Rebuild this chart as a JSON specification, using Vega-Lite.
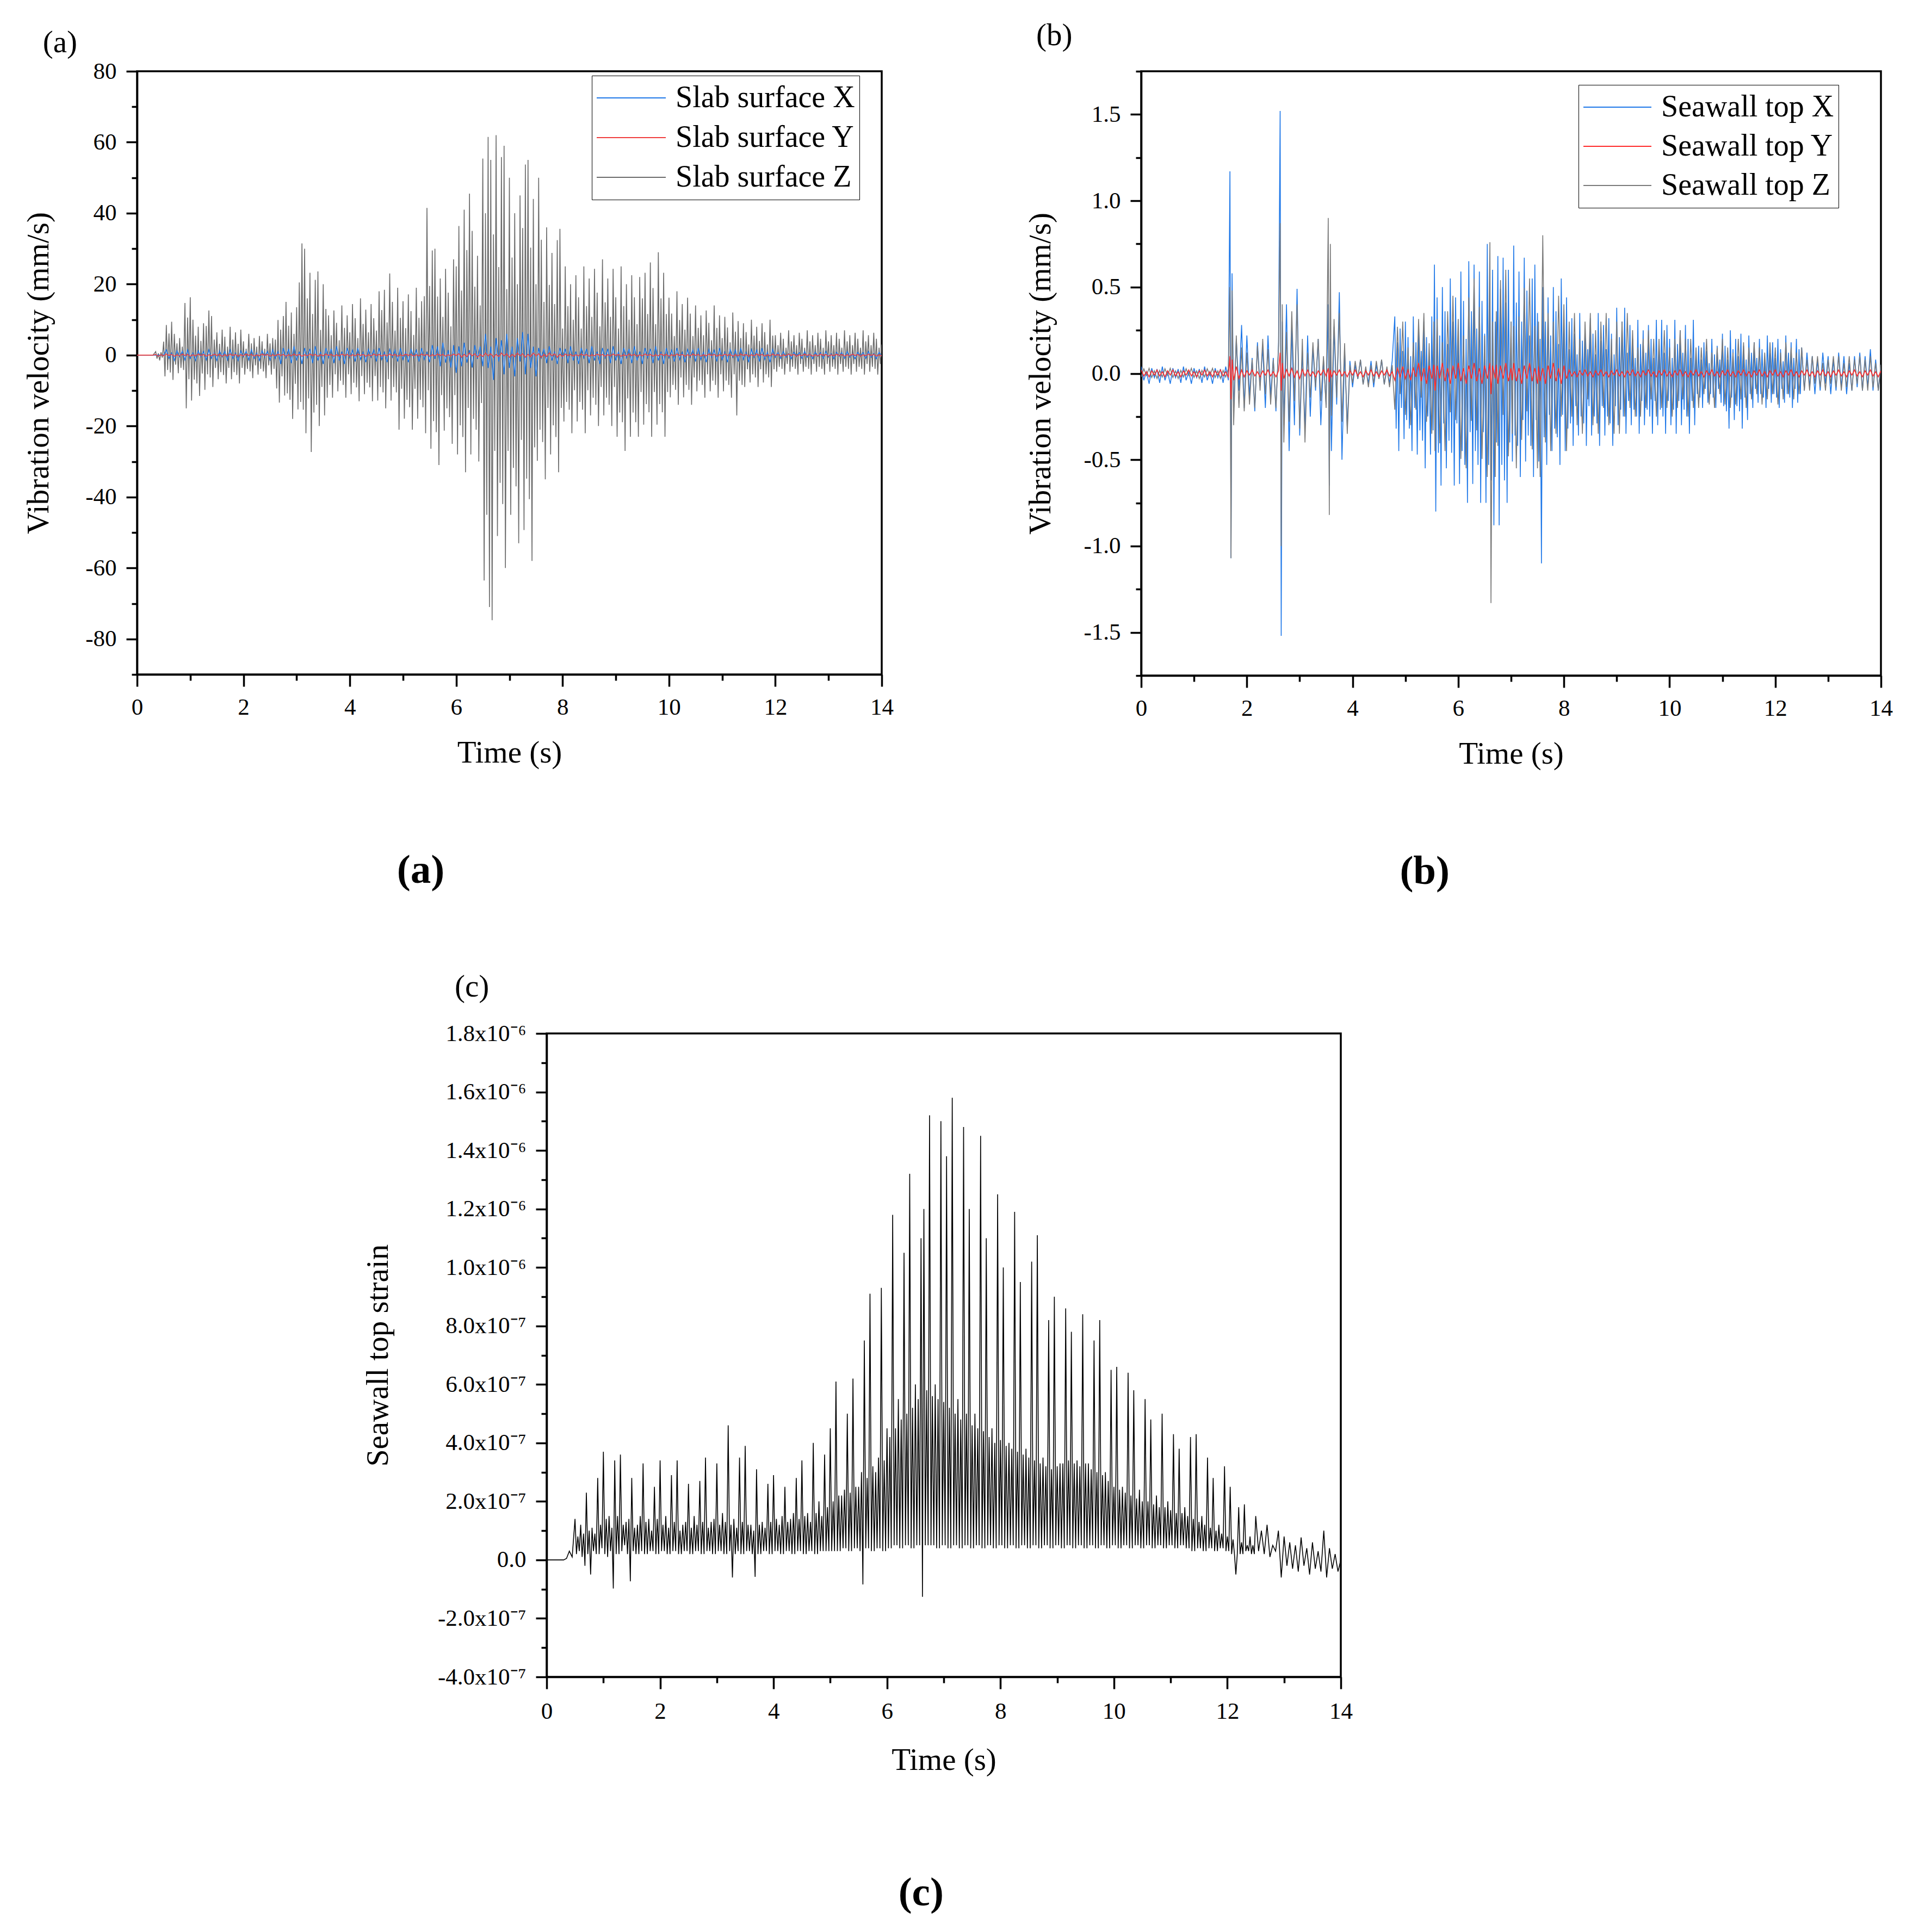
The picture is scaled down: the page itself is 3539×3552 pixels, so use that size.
{
"$schema":"https://vega.github.io/schema/vega-lite/v6.json",
"background":"white",
"padding":{"left":40,"top":35,"right":0,"bottom":0},
"config":{
 "font":"Liberation Serif",
 "view":{"stroke":"black","strokeWidth":3.5},
 "axis":{"domainColor":"black","domainWidth":3.5,"tickColor":"black","tickWidth":3.5,"labelFont":"Liberation Serif","labelFontSize":43,"labelColor":"black","titleFont":"Liberation Serif","titleFontSize":57,"titleFontWeight":"normal","titleColor":"black","grid":false,"labelOverlap":false,"labelFlush":false,"labelBound":false},
 "legend":{"labelFont":"Liberation Serif","labelFontSize":56,"labelColor":"black","labelLimit":800},
 "title":{"font":"Liberation Serif","fontWeight":"normal","color":"black","fontSize":57}
},
"datasets":{
"za":[
{"t":0,"v":0},{"t":0.3,"v":0},
{"t":0.35,"v":1},{"t":0.375,"v":-1},{"t":0.4,"v":0.5},{"t":0.425,"v":-1.5},{"t":0.45,"v":0.8},{"t":0.475,"v":-0.7},
{"t":0.5,"v":3.8},{"t":0.525,"v":-6},{"t":0.55,"v":8.5},{"t":0.575,"v":-4.2},{"t":0.6,"v":6.1},{"t":0.625,"v":-4.9},{"t":0.65,"v":9.4},{"t":0.675,"v":-7},
{"t":0.7,"v":6},{"t":0.725,"v":-2.7},{"t":0.75,"v":3.3},{"t":0.775,"v":-5.1},{"t":0.8,"v":4.8},{"t":0.825,"v":-3.6},{"t":0.85,"v":2.4},{"t":0.875,"v":-4.2},
{"t":0.9,"v":14.7},{"t":0.925,"v":-15},{"t":0.95,"v":10.6},{"t":0.975,"v":-6.8},{"t":1,"v":16.3},{"t":1.025,"v":-12.8},
{"t":1.05,"v":10},{"t":1.075,"v":-6.9},{"t":1.1,"v":5.5},{"t":1.125,"v":-8},{"t":1.15,"v":8},{"t":1.175,"v":-11.5},{"t":1.2,"v":4},{"t":1.225,"v":-5.2},{"t":1.25,"v":9},{"t":1.275,"v":-9.8},
{"t":1.3,"v":8.2},{"t":1.325,"v":-5.4},{"t":1.35,"v":12.6},{"t":1.375,"v":-6.3},{"t":1.4,"v":11},{"t":1.425,"v":-9},
{"t":1.45,"v":4.4},{"t":1.475,"v":-3.6},{"t":1.5,"v":6.4},{"t":1.525,"v":-6.8},{"t":1.55,"v":3.2},{"t":1.575,"v":-4.8},{"t":1.6,"v":7.2},{"t":1.625,"v":-5.6},{"t":1.65,"v":5.2},{"t":1.675,"v":-8},{"t":1.7,"v":2.4},{"t":1.725,"v":-3.6},{"t":1.75,"v":8},{"t":1.775,"v":-6.8},{"t":1.8,"v":4.4},{"t":1.825,"v":-4.8},{"t":1.85,"v":6.4},{"t":1.875,"v":-5.6},{"t":1.9,"v":3.2},{"t":1.925,"v":-8},{"t":1.95,"v":7.2},{"t":1.975,"v":-3.6},
{"t":2,"v":3.9},{"t":2.025,"v":-5.5},{"t":2.05,"v":1.8},{"t":2.075,"v":-3.9},{"t":2.1,"v":6},{"t":2.125,"v":-4.6},{"t":2.15,"v":3.3},{"t":2.175,"v":-6.5},{"t":2.2,"v":4.8},{"t":2.225,"v":-2.9},{"t":2.25,"v":2.4},{"t":2.275,"v":-5.5},{"t":2.3,"v":5.4},{"t":2.325,"v":-3.9},{"t":2.35,"v":3.9},{"t":2.375,"v":-4.6},{"t":2.4,"v":1.8},{"t":2.425,"v":-6.5},{"t":2.45,"v":6},{"t":2.475,"v":-2.9},{"t":2.5,"v":3.3},{"t":2.525,"v":-5.5},{"t":2.55,"v":4.8},{"t":2.575,"v":-3.9},
{"t":2.6,"v":4.4},{"t":2.625,"v":-9.4},{"t":2.65,"v":9.9},{"t":2.675,"v":-13.4},{"t":2.7,"v":7.2},{"t":2.725,"v":-6},{"t":2.75,"v":11},{"t":2.775,"v":-11.4},
{"t":2.8,"v":15},{"t":2.825,"v":-10.8},{"t":2.85,"v":8.3},{"t":2.875,"v":-12.6},{"t":2.9,"v":12},{"t":2.925,"v":-18},{"t":2.95,"v":6},{"t":2.975,"v":-8.1},{"t":3,"v":13.5},{"t":3.025,"v":-15.3},
{"t":3.05,"v":20.5},{"t":3.075,"v":-13.2},{"t":3.1,"v":31.5},{"t":3.125,"v":-15.4},{"t":3.15,"v":30},{"t":3.175,"v":-22},
{"t":3.2,"v":16},{"t":3.225,"v":-12.2},{"t":3.25,"v":23.2},{"t":3.275,"v":-27.3},{"t":3.3,"v":11.6},{"t":3.325,"v":-16.2},
{"t":3.35,"v":21.2},{"t":3.375,"v":-14},{"t":3.4,"v":23.6},{"t":3.425,"v":-20},{"t":3.45,"v":7.1},{"t":3.475,"v":-9},{"t":3.5,"v":20},{"t":3.525,"v":-17},{"t":3.55,"v":13},{"t":3.575,"v":-12},
{"t":3.6,"v":11.2},{"t":3.625,"v":-8.4},{"t":3.65,"v":5.6},{"t":3.675,"v":-12},{"t":3.7,"v":12.6},{"t":3.725,"v":-5.4},{"t":3.75,"v":9.1},{"t":3.775,"v":-10.2},{"t":3.8,"v":4.2},{"t":3.825,"v":-7.2},{"t":3.85,"v":14},{"t":3.875,"v":-8.4},{"t":3.9,"v":7.7},{"t":3.925,"v":-12},{"t":3.95,"v":11.2},{"t":3.975,"v":-5.4},
{"t":4,"v":6.4},{"t":4.025,"v":-11},{"t":4.05,"v":14.4},{"t":4.075,"v":-7.8},{"t":4.1,"v":10.4},{"t":4.125,"v":-9.1},{"t":4.15,"v":4.8},{"t":4.175,"v":-13},{"t":4.2,"v":16},{"t":4.225,"v":-5.9},{"t":4.25,"v":8.8},{"t":4.275,"v":-11},{"t":4.3,"v":12.8},{"t":4.325,"v":-7.8},{"t":4.35,"v":6.4},{"t":4.375,"v":-9.1},{"t":4.4,"v":14.4},{"t":4.425,"v":-13},{"t":4.45,"v":10.4},{"t":4.475,"v":-5.9},
{"t":4.5,"v":6.9},{"t":4.525,"v":-12.8},{"t":4.55,"v":18},{"t":4.575,"v":-9},{"t":4.6,"v":12.7},{"t":4.625,"v":-10.5},{"t":4.65,"v":18.4},{"t":4.675,"v":-15},{"t":4.7,"v":9.2},{"t":4.725,"v":-6.8},{"t":4.75,"v":23},{"t":4.775,"v":-12.8},{"t":4.8,"v":15},{"t":4.825,"v":-9},{"t":4.85,"v":6.9},{"t":4.875,"v":-10.5},
{"t":4.9,"v":19},{"t":4.925,"v":-21},{"t":4.95,"v":10.5},{"t":4.975,"v":-9.5},{"t":5,"v":15.2},{"t":5.025,"v":-17.9},{"t":5.05,"v":7.6},{"t":5.075,"v":-12.6},{"t":5.1,"v":17.1},{"t":5.125,"v":-14.7},{"t":5.15,"v":12.4},{"t":5.175,"v":-21},{"t":5.2,"v":5.7},{"t":5.225,"v":-9.5},{"t":5.25,"v":19},{"t":5.275,"v":-17.9},{"t":5.3,"v":10.5},{"t":5.325,"v":-12.6},{"t":5.35,"v":15.2},{"t":5.375,"v":-14.7},
{"t":5.4,"v":16.6},{"t":5.425,"v":-22},{"t":5.45,"v":41.5},{"t":5.475,"v":-9.9},
{"t":5.5,"v":19.5},{"t":5.525,"v":-26.4},{"t":5.55,"v":29.5},{"t":5.575,"v":-18.6},{"t":5.6,"v":30},{"t":5.625,"v":-21.7},{"t":5.65,"v":16.5},{"t":5.675,"v":-31},
{"t":5.7,"v":21.6},{"t":5.725,"v":-11.3},{"t":5.75,"v":10.8},{"t":5.775,"v":-21.3},{"t":5.8,"v":24.3},{"t":5.825,"v":-15},{"t":5.85,"v":17.6},{"t":5.875,"v":-17.5},{"t":5.9,"v":8.1},{"t":5.925,"v":-25},{"t":5.95,"v":27},{"t":5.975,"v":-11.3},
{"t":6,"v":25},{"t":6.025,"v":-28},{"t":6.05,"v":36.4},{"t":6.075,"v":-19.8},{"t":6.1,"v":18.2},{"t":6.125,"v":-23.1},{"t":6.15,"v":41},{"t":6.175,"v":-33},{"t":6.2,"v":29.6},{"t":6.225,"v":-14.9},{"t":6.25,"v":45.5},{"t":6.275,"v":-28},
{"t":6.3,"v":35},{"t":6.325,"v":-18},{"t":6.35,"v":19.3},{"t":6.375,"v":-21},{"t":6.4,"v":28},{"t":6.425,"v":-30},{"t":6.45,"v":14},{"t":6.475,"v":-13.5},
{"t":6.5,"v":55.4},{"t":6.525,"v":-63.5},{"t":6.55,"v":40},{"t":6.575,"v":-45},{"t":6.6,"v":61.5},{"t":6.625,"v":-71},{"t":6.65,"v":55},{"t":6.675,"v":-74.7},
{"t":6.7,"v":34},{"t":6.725,"v":-27},{"t":6.75,"v":62},{"t":6.775,"v":-51},{"t":6.8,"v":24.8},{"t":6.825,"v":-36},{"t":6.85,"v":55.8},{"t":6.875,"v":-42},{"t":6.9,"v":59},{"t":6.925,"v":-60},{"t":6.95,"v":18.6},{"t":6.975,"v":-27},
{"t":7,"v":50},{"t":7.025,"v":-45},{"t":7.05,"v":27.5},{"t":7.075,"v":-31.8},{"t":7.1,"v":40},{"t":7.125,"v":-37},{"t":7.15,"v":20},{"t":7.175,"v":-53},{"t":7.2,"v":45},{"t":7.225,"v":-23.9},
{"t":7.25,"v":35.8},{"t":7.275,"v":-49.3},{"t":7.3,"v":53.7},{"t":7.325,"v":-34.8},{"t":7.35,"v":55},{"t":7.375,"v":-40.6},{"t":7.4,"v":30.3},{"t":7.425,"v":-58},{"t":7.45,"v":44},{"t":7.475,"v":-26},
{"t":7.5,"v":20},{"t":7.525,"v":-29.8},{"t":7.55,"v":50},{"t":7.575,"v":-21},{"t":7.6,"v":32.5},{"t":7.625,"v":-24.5},{"t":7.65,"v":15},{"t":7.675,"v":-35},
{"t":7.7,"v":36},{"t":7.725,"v":-14.9},{"t":7.75,"v":19.8},{"t":7.775,"v":-28},{"t":7.8,"v":28.8},{"t":7.825,"v":-19.8},{"t":7.85,"v":14.4},{"t":7.875,"v":-23.1},{"t":7.9,"v":32.4},{"t":7.925,"v":-33},{"t":7.95,"v":35.6},{"t":7.975,"v":-14.9},
{"t":8,"v":7.5},{"t":8.025,"v":-18.7},{"t":8.05,"v":25},{"t":8.075,"v":-13.2},{"t":8.1,"v":13.8},{"t":8.125,"v":-15.4},{"t":8.15,"v":20},{"t":8.175,"v":-22},{"t":8.2,"v":10},{"t":8.225,"v":-9.9},{"t":8.25,"v":22.5},{"t":8.275,"v":-18.7},{"t":8.3,"v":16.3},{"t":8.325,"v":-13.2},{"t":8.35,"v":7.5},{"t":8.375,"v":-15.4},{"t":8.4,"v":25},{"t":8.425,"v":-22},{"t":8.45,"v":13.8},{"t":8.475,"v":-9.9},
{"t":8.5,"v":21.6},{"t":8.525,"v":-17},{"t":8.55,"v":10.8},{"t":8.575,"v":-12},{"t":8.6,"v":24.3},{"t":8.625,"v":-14},{"t":8.65,"v":17.6},{"t":8.675,"v":-20},{"t":8.7,"v":8.1},{"t":8.725,"v":-9},{"t":8.75,"v":27},{"t":8.775,"v":-17},{"t":8.8,"v":14.9},{"t":8.825,"v":-12},{"t":8.85,"v":21.6},{"t":8.875,"v":-14},{"t":8.9,"v":10.8},{"t":8.925,"v":-20},{"t":8.95,"v":24.3},{"t":8.975,"v":-9},
{"t":9,"v":16.3},{"t":9.025,"v":-23},{"t":9.05,"v":7.5},{"t":9.075,"v":-16.2},{"t":9.1,"v":25},{"t":9.125,"v":-18.9},{"t":9.15,"v":13.8},{"t":9.175,"v":-27},{"t":9.2,"v":20},{"t":9.225,"v":-12.2},{"t":9.25,"v":10},{"t":9.275,"v":-23},{"t":9.3,"v":22.5},{"t":9.325,"v":-16.2},{"t":9.35,"v":16.3},{"t":9.375,"v":-18.9},
{"t":9.4,"v":8.7},{"t":9.425,"v":-23},{"t":9.45,"v":22},{"t":9.475,"v":-10.4},{"t":9.5,"v":16},{"t":9.525,"v":-19.6},{"t":9.55,"v":23.2},{"t":9.575,"v":-13.8},{"t":9.6,"v":11.6},{"t":9.625,"v":-16.1},{"t":9.65,"v":26.1},{"t":9.675,"v":-23},{"t":9.7,"v":18.9},{"t":9.725,"v":-10.4},{"t":9.75,"v":8.7},{"t":9.775,"v":-19.6},{"t":9.8,"v":29},{"t":9.825,"v":-13.8},{"t":9.85,"v":16},{"t":9.875,"v":-16.1},{"t":9.9,"v":23.2},{"t":9.925,"v":-23},{"t":9.95,"v":11.6},{"t":9.975,"v":-10.4},
{"t":10,"v":16.2},{"t":10.025,"v":-11.9},{"t":10.05,"v":11.7},{"t":10.075,"v":-8.4},{"t":10.1,"v":5.4},{"t":10.125,"v":-9.8},{"t":10.15,"v":18},{"t":10.175,"v":-14},{"t":10.2,"v":9.9},{"t":10.225,"v":-6.3},{"t":10.25,"v":14.4},{"t":10.275,"v":-11.9},{"t":10.3,"v":7.2},{"t":10.325,"v":-8.4},{"t":10.35,"v":16.2},{"t":10.375,"v":-9.8},{"t":10.4,"v":11.7},{"t":10.425,"v":-14},{"t":10.45,"v":5.4},{"t":10.475,"v":-6.3},
{"t":10.5,"v":14},{"t":10.525,"v":-10.2},{"t":10.55,"v":7.7},{"t":10.575,"v":-7.2},{"t":10.6,"v":11.2},{"t":10.625,"v":-8.4},{"t":10.65,"v":5.6},{"t":10.675,"v":-12},{"t":10.7,"v":12.6},{"t":10.725,"v":-5.4},{"t":10.75,"v":9.1},{"t":10.775,"v":-10.2},{"t":10.8,"v":4.2},{"t":10.825,"v":-7.2},{"t":10.85,"v":14},{"t":10.875,"v":-8.4},{"t":10.9,"v":7.7},{"t":10.925,"v":-12},{"t":10.95,"v":11.2},{"t":10.975,"v":-5.4},
{"t":11,"v":4.8},{"t":11.025,"v":-10.2},{"t":11.05,"v":10.8},{"t":11.075,"v":-7.2},{"t":11.1,"v":7.8},{"t":11.125,"v":-8.4},{"t":11.15,"v":3.6},{"t":11.175,"v":-12},{"t":11.2,"v":12},{"t":11.225,"v":-5.4},{"t":11.25,"v":6.6},{"t":11.275,"v":-17},{"t":11.3,"v":9.6},{"t":11.325,"v":-7.2},{"t":11.35,"v":4.8},{"t":11.375,"v":-8.4},
{"t":11.4,"v":9},{"t":11.425,"v":-9},{"t":11.45,"v":6.5},{"t":11.475,"v":-4},{"t":11.5,"v":3},{"t":11.525,"v":-7.7},{"t":11.55,"v":10},{"t":11.575,"v":-5.4},{"t":11.6,"v":5.5},{"t":11.625,"v":-6.3},{"t":11.65,"v":8},{"t":11.675,"v":-9},{"t":11.7,"v":4},{"t":11.725,"v":-4},{"t":11.75,"v":9},{"t":11.775,"v":-7.7},{"t":11.8,"v":6.5},{"t":11.825,"v":-5.4},{"t":11.85,"v":3},{"t":11.875,"v":-6.3},{"t":11.9,"v":10},{"t":11.925,"v":-9},{"t":11.95,"v":5.5},{"t":11.975,"v":-4},
{"t":12,"v":5.6},{"t":12.025,"v":-4.7},{"t":12.05,"v":2.8},{"t":12.075,"v":-3.3},{"t":12.1,"v":6.3},{"t":12.125,"v":-3.9},{"t":12.15,"v":4.6},{"t":12.175,"v":-5.5},{"t":12.2,"v":2.1},{"t":12.225,"v":-2.5},{"t":12.25,"v":7},{"t":12.275,"v":-4.7},{"t":12.3,"v":3.9},{"t":12.325,"v":-3.3},{"t":12.35,"v":5.6},{"t":12.375,"v":-3.9},{"t":12.4,"v":2.8},{"t":12.425,"v":-5.5},{"t":12.45,"v":6.3},{"t":12.475,"v":-2.5},{"t":12.5,"v":4.6},{"t":12.525,"v":-4.7},{"t":12.55,"v":2.1},{"t":12.575,"v":-3.3},{"t":12.6,"v":7},{"t":12.625,"v":-3.9},{"t":12.65,"v":3.9},{"t":12.675,"v":-5.5},{"t":12.7,"v":5.6},{"t":12.725,"v":-2.5},{"t":12.75,"v":2.8},{"t":12.775,"v":-4.7},{"t":12.8,"v":6.3},{"t":12.825,"v":-3.3},{"t":12.85,"v":4.6},{"t":12.875,"v":-3.9},{"t":12.9,"v":2.1},{"t":12.925,"v":-5.5},{"t":12.95,"v":7},{"t":12.975,"v":-2.5},
{"t":13,"v":3.9},{"t":13.025,"v":-4.7},{"t":13.05,"v":5.6},{"t":13.075,"v":-3.3},{"t":13.1,"v":2.8},{"t":13.125,"v":-3.9},{"t":13.15,"v":6.3},{"t":13.175,"v":-5.5},{"t":13.2,"v":4.6},{"t":13.225,"v":-2.5},{"t":13.25,"v":2.1},{"t":13.275,"v":-4.7},{"t":13.3,"v":7},{"t":13.325,"v":-3.3},{"t":13.35,"v":3.9},{"t":13.375,"v":-3.9},{"t":13.4,"v":5.6},{"t":13.425,"v":-5.5},{"t":13.45,"v":2.8},{"t":13.475,"v":-2.5},{"t":13.5,"v":6.3},{"t":13.525,"v":-4.7},{"t":13.55,"v":4.6},{"t":13.575,"v":-3.3},{"t":13.6,"v":2.1},{"t":13.625,"v":-3.9},{"t":13.65,"v":7},{"t":13.675,"v":-5.5},{"t":13.7,"v":3.9},{"t":13.725,"v":-2.5},{"t":13.75,"v":5.6},{"t":13.775,"v":-4.7},{"t":13.8,"v":2.8},{"t":13.825,"v":-3.3},{"t":13.85,"v":6.3},{"t":13.875,"v":-3.9},{"t":13.9,"v":4.6},{"t":13.925,"v":-5.5},{"t":13.95,"v":2.1},{"t":13.975,"v":-2.5},{"t":14,"v":3}
],
"a":[
{"t":0,"x":0,"y":0},{"t":0.3,"x":0,"y":0},{"t":0.35,"x":0,"y":0.2},{"t":0.4,"x":0,"y":-0.3},{"t":0.45,"x":0,"y":0.1},{"t":0.5,"x":0,"y":-0.2},{"t":0.55,"x":1.5,"y":0.3},{"t":0.6,"x":-0.9,"y":-0.1},{"t":0.65,"x":0.6,"y":0.2},{"t":0.7,"x":-1.5,"y":-0.3},{"t":0.75,"x":1.2,"y":0.1},{"t":0.8,"x":-0.45,"y":-0.2},{"t":0.85,"x":1.05,"y":0.3},{"t":0.9,"x":-1.35,"y":-0.1},{"t":0.95,"x":1.5,"y":0.2},{"t":1,"x":-0.9,"y":-0.3},{"t":1.05,"x":0.6,"y":0.1},{"t":1.1,"x":-1.5,"y":-0.2},{"t":1.15,"x":1.2,"y":0.3},{"t":1.2,"x":-0.45,"y":-0.1},{"t":1.25,"x":1.05,"y":0.2},{"t":1.3,"x":-1.35,"y":-0.3},{"t":1.35,"x":1.5,"y":0.1},{"t":1.4,"x":-0.9,"y":-0.2},{"t":1.45,"x":0.6,"y":0.3},{"t":1.5,"x":-1.5,"y":-0.1},{"t":1.55,"x":1.2,"y":0.2},{"t":1.6,"x":-0.45,"y":-0.3},{"t":1.65,"x":1.05,"y":0.1},{"t":1.7,"x":-1.35,"y":-0.2},{"t":1.75,"x":1.5,"y":0.3},{"t":1.8,"x":-0.9,"y":-0.1},{"t":1.85,"x":0.6,"y":0.2},{"t":1.9,"x":-1.5,"y":-0.3},{"t":1.95,"x":1.2,"y":0.1},{"t":2,"x":-0.45,"y":-0.2},{"t":2.05,"x":1.05,"y":0.3},{"t":2.1,"x":-1.35,"y":-0.1},{"t":2.15,"x":1.5,"y":0.2},{"t":2.2,"x":-0.9,"y":-0.3},{"t":2.25,"x":0.6,"y":0.1},{"t":2.3,"x":-1.5,"y":-0.2},{"t":2.35,"x":1.2,"y":0.3},{"t":2.4,"x":-0.45,"y":-0.1},{"t":2.45,"x":1.05,"y":0.2},{"t":2.5,"x":-1.35,"y":-0.3},{"t":2.55,"x":1.5,"y":0.1},{"t":2.6,"x":-0.9,"y":-0.2},{"t":2.65,"x":1,"y":0.3},{"t":2.7,"x":-2.5,"y":-0.1},{"t":2.75,"x":2,"y":0.2},{"t":2.8,"x":-0.75,"y":-0.3},{"t":2.85,"x":1.75,"y":0.1},{"t":2.9,"x":-2.25,"y":-0.2},{"t":2.95,"x":2.5,"y":0.3},{"t":3,"x":-1.5,"y":-0.1},{"t":3.05,"x":1,"y":0.2},{"t":3.1,"x":-2.5,"y":-0.3},{"t":3.15,"x":2,"y":0.1},{"t":3.2,"x":-0.75,"y":-0.2},{"t":3.25,"x":1.75,"y":0.3},{"t":3.3,"x":-2.25,"y":-0.1},{"t":3.35,"x":2.5,"y":0.2},{"t":3.4,"x":-1.5,"y":-0.3},{"t":3.45,"x":1,"y":0.1},{"t":3.5,"x":-2.5,"y":-0.2},{"t":3.55,"x":2,"y":0.3},{"t":3.6,"x":-0.75,"y":-0.1},{"t":3.65,"x":1.75,"y":0.2},{"t":3.7,"x":-2.25,"y":-0.3},{"t":3.75,"x":2.5,"y":0.1},{"t":3.8,"x":-1.5,"y":-0.2},{"t":3.85,"x":1,"y":0.3},{"t":3.9,"x":-2.5,"y":-0.1},{"t":3.95,"x":2,"y":0.2},{"t":4,"x":-0.75,"y":-0.3},{"t":4.05,"x":1.4,"y":0.1},{"t":4.1,"x":-1.8,"y":-0.2},{"t":4.15,"x":2,"y":0.3},{"t":4.2,"x":-1.2,"y":-0.1},{"t":4.25,"x":0.8,"y":0.2},{"t":4.3,"x":-2,"y":-0.3},{"t":4.35,"x":1.6,"y":0.1},{"t":4.4,"x":-0.6,"y":-0.2},{"t":4.45,"x":1.4,"y":0.3},{"t":4.5,"x":-1.8,"y":-0.1},{"t":4.55,"x":2,"y":0.2},{"t":4.6,"x":-1.2,"y":-0.3},{"t":4.65,"x":0.8,"y":0.1},{"t":4.7,"x":-2,"y":-0.2},{"t":4.75,"x":1.6,"y":0.3},{"t":4.8,"x":-0.6,"y":-0.1},{"t":4.85,"x":1.4,"y":0.2},{"t":4.9,"x":-1.8,"y":-0.3},{"t":4.95,"x":2,"y":0.1},{"t":5,"x":-1.2,"y":-0.2},{"t":5.05,"x":0.8,"y":0.3},{"t":5.1,"x":-2,"y":-0.1},{"t":5.15,"x":1.6,"y":0.2},{"t":5.2,"x":-0.6,"y":-0.3},{"t":5.25,"x":1.4,"y":0.1},{"t":5.3,"x":-1.8,"y":-0.2},{"t":5.35,"x":2,"y":0.3},{"t":5.4,"x":-1.2,"y":-0.1},{"t":5.45,"x":0.8,"y":0.2},{"t":5.5,"x":-2,"y":-0.3},{"t":5.55,"x":2.8,"y":0.1},{"t":5.6,"x":-1.05,"y":-0.2},{"t":5.65,"x":2.45,"y":0.3},{"t":5.7,"x":-3.15,"y":-0.1},{"t":5.75,"x":3.5,"y":0.2},{"t":5.8,"x":-2.1,"y":-0.3},{"t":5.85,"x":1.4,"y":0.1},{"t":5.9,"x":-3.5,"y":-0.2},{"t":5.95,"x":2.8,"y":0.3},{"t":6,"x":-5,"y":-0.1},{"t":6.05,"x":2.45,"y":0.4},{"t":6.1,"x":-3.15,"y":-0.6},{"t":6.15,"x":3.5,"y":0.2},{"t":6.2,"x":-2.1,"y":-0.4},{"t":6.25,"x":1.4,"y":0.6},{"t":6.3,"x":-3.5,"y":-0.2},{"t":6.35,"x":2.8,"y":0.4},{"t":6.4,"x":-1.05,"y":-0.6},{"t":6.45,"x":2.45,"y":0.2},{"t":6.5,"x":-3.15,"y":-0.4},{"t":6.55,"x":6,"y":0.6},{"t":6.6,"x":-3.6,"y":-0.2},{"t":6.65,"x":2.4,"y":0.4},{"t":6.7,"x":-7,"y":-0.6},{"t":6.75,"x":4.8,"y":0.2},{"t":6.8,"x":-1.8,"y":-0.4},{"t":6.85,"x":4.2,"y":0.6},{"t":6.9,"x":-5.4,"y":-0.2},{"t":6.95,"x":6,"y":0.4},{"t":7,"x":-3.6,"y":-0.6},{"t":7.05,"x":2.4,"y":0.2},{"t":7.1,"x":-6,"y":-0.4},{"t":7.15,"x":4.8,"y":0.6},{"t":7.2,"x":-1.8,"y":-0.2},{"t":7.25,"x":6.5,"y":0.4},{"t":7.3,"x":-5.4,"y":-0.6},{"t":7.35,"x":6,"y":0.2},{"t":7.4,"x":-3.6,"y":-0.4},{"t":7.45,"x":2.4,"y":0.6},{"t":7.5,"x":-6,"y":-0.2},{"t":7.55,"x":2,"y":0.4},{"t":7.6,"x":-0.75,"y":-0.6},{"t":7.65,"x":1.75,"y":0.2},{"t":7.7,"x":-2.25,"y":-0.4},{"t":7.75,"x":2.5,"y":0.6},{"t":7.8,"x":-1.5,"y":-0.2},{"t":7.85,"x":1,"y":0.4},{"t":7.9,"x":-2.5,"y":-0.6},{"t":7.95,"x":2,"y":0.2},{"t":8,"x":-0.75,"y":-0.4},{"t":8.05,"x":1.75,"y":0.3},{"t":8.1,"x":-2.25,"y":-0.1},{"t":8.15,"x":2.5,"y":0.2},{"t":8.2,"x":-1.5,"y":-0.3},{"t":8.25,"x":1,"y":0.1},{"t":8.3,"x":-2.5,"y":-0.2},{"t":8.35,"x":2,"y":0.3},{"t":8.4,"x":-0.75,"y":-0.1},{"t":8.45,"x":1.75,"y":0.2},{"t":8.5,"x":-2.25,"y":-0.3},{"t":8.55,"x":2.5,"y":0.1},{"t":8.6,"x":-1.5,"y":-0.2},{"t":8.65,"x":1,"y":0.3},{"t":8.7,"x":-2.5,"y":-0.1},{"t":8.75,"x":2,"y":0.2},{"t":8.8,"x":-0.75,"y":-0.3},{"t":8.85,"x":1.75,"y":0.1},{"t":8.9,"x":-2.25,"y":-0.2},{"t":8.95,"x":2.5,"y":0.3},{"t":9,"x":-1.5,"y":-0.1},{"t":9.05,"x":1,"y":0.2},{"t":9.1,"x":-2.5,"y":-0.3},{"t":9.15,"x":2,"y":0.1},{"t":9.2,"x":-0.75,"y":-0.2},{"t":9.25,"x":1.75,"y":0.3},{"t":9.3,"x":-2.25,"y":-0.1},{"t":9.35,"x":2.5,"y":0.2},{"t":9.4,"x":-1.5,"y":-0.3},{"t":9.45,"x":1,"y":0.1},{"t":9.5,"x":-2.5,"y":-0.2},{"t":9.55,"x":2,"y":0.3},{"t":9.6,"x":-0.75,"y":-0.1},{"t":9.65,"x":1.75,"y":0.2},{"t":9.7,"x":-2.25,"y":-0.3},{"t":9.75,"x":2.5,"y":0.1},{"t":9.8,"x":-1.5,"y":-0.2},{"t":9.85,"x":1,"y":0.3},{"t":9.9,"x":-2.5,"y":-0.1},{"t":9.95,"x":2,"y":0.2},{"t":10,"x":-0.75,"y":-0.3},{"t":10.05,"x":1.4,"y":0.1},{"t":10.1,"x":-1.8,"y":-0.2},{"t":10.15,"x":2,"y":0.3},{"t":10.2,"x":-1.2,"y":-0.1},{"t":10.25,"x":0.8,"y":0.2},{"t":10.3,"x":-2,"y":-0.3},{"t":10.35,"x":1.6,"y":0.1},{"t":10.4,"x":-0.6,"y":-0.2},{"t":10.45,"x":1.4,"y":0.3},{"t":10.5,"x":-1.8,"y":-0.1},{"t":10.55,"x":2,"y":0.2},{"t":10.6,"x":-1.2,"y":-0.3},{"t":10.65,"x":0.8,"y":0.1},{"t":10.7,"x":-2,"y":-0.2},{"t":10.75,"x":1.6,"y":0.3},{"t":10.8,"x":-0.6,"y":-0.1},{"t":10.85,"x":1.4,"y":0.2},{"t":10.9,"x":-1.8,"y":-0.3},{"t":10.95,"x":2,"y":0.1},{"t":11,"x":-1.2,"y":-0.2},{"t":11.05,"x":0.8,"y":0.3},{"t":11.1,"x":-2,"y":-0.1},{"t":11.15,"x":1.6,"y":0.2},{"t":11.2,"x":-0.6,"y":-0.3},{"t":11.25,"x":1.4,"y":0.1},{"t":11.3,"x":-1.8,"y":-0.2},{"t":11.35,"x":2,"y":0.3},{"t":11.4,"x":-1.2,"y":-0.1},{"t":11.45,"x":0.8,"y":0.2},{"t":11.5,"x":-2,"y":-0.3},{"t":11.55,"x":1.6,"y":0.1},{"t":11.6,"x":-0.6,"y":-0.2},{"t":11.65,"x":1.4,"y":0.3},{"t":11.7,"x":-1.8,"y":-0.1},{"t":11.75,"x":2,"y":0.2},{"t":11.8,"x":-1.2,"y":-0.3},{"t":11.85,"x":0.8,"y":0.1},{"t":11.9,"x":-2,"y":-0.2},{"t":11.95,"x":1.6,"y":0.3},{"t":12,"x":-0.6,"y":-0.1},{"t":12.05,"x":0.7,"y":0.2},{"t":12.1,"x":-0.9,"y":-0.3},{"t":12.15,"x":1,"y":0.1},{"t":12.2,"x":-0.6,"y":-0.2},{"t":12.25,"x":0.4,"y":0.3},{"t":12.3,"x":-1,"y":-0.1},{"t":12.35,"x":0.8,"y":0.2},{"t":12.4,"x":-0.3,"y":-0.3},{"t":12.45,"x":0.7,"y":0.1},{"t":12.5,"x":-0.9,"y":-0.2},{"t":12.55,"x":1,"y":0.3},{"t":12.6,"x":-0.6,"y":-0.1},{"t":12.65,"x":0.4,"y":0.2},{"t":12.7,"x":-1,"y":-0.3},{"t":12.75,"x":0.8,"y":0.1},{"t":12.8,"x":-0.3,"y":-0.2},{"t":12.85,"x":0.7,"y":0.3},{"t":12.9,"x":-0.9,"y":-0.1},{"t":12.95,"x":1,"y":0.2},{"t":13,"x":-0.6,"y":-0.3},{"t":13.05,"x":0.4,"y":0.1},{"t":13.1,"x":-1,"y":-0.2},{"t":13.15,"x":0.8,"y":0.3},{"t":13.2,"x":-0.3,"y":-0.1},{"t":13.25,"x":0.7,"y":0.2},{"t":13.3,"x":-0.9,"y":-0.3},{"t":13.35,"x":1,"y":0.1},{"t":13.4,"x":-0.6,"y":-0.2},{"t":13.45,"x":0.4,"y":0.3},{"t":13.5,"x":-1,"y":-0.1},{"t":13.55,"x":0.8,"y":0.2},{"t":13.6,"x":-0.3,"y":-0.3},{"t":13.65,"x":0.7,"y":0.1},{"t":13.7,"x":-0.9,"y":-0.2},{"t":13.75,"x":1,"y":0.3},{"t":13.8,"x":-0.6,"y":-0.1},{"t":13.85,"x":0.4,"y":0.2},{"t":13.9,"x":-1,"y":-0.3},{"t":13.95,"x":0.8,"y":0.1},{"t":14,"x":-0.3,"y":-0.2}
],
"xb":[
{"t":0,"v":0.04},{"t":0.05,"v":-0.04},{"t":0.1,"v":0.01},{"t":0.15,"v":-0.06},{"t":0.2,"v":0.03},{"t":0.25,"v":-0.025},{"t":0.3,"v":0.025},{"t":0.35,"v":-0.055},{"t":0.4,"v":0.04},{"t":0.45,"v":-0.04},{"t":0.5,"v":0.01},{"t":0.55,"v":-0.06},{"t":0.6,"v":0.03},{"t":0.65,"v":-0.025},{"t":0.7,"v":0.025},{"t":0.75,"v":-0.055},{"t":0.8,"v":0.04},{"t":0.85,"v":-0.04},{"t":0.9,"v":0.01},{"t":0.95,"v":-0.06},{"t":1,"v":0.03},{"t":1.05,"v":-0.025},{"t":1.1,"v":0.025},{"t":1.15,"v":-0.055},{"t":1.2,"v":0.04},{"t":1.25,"v":-0.04},{"t":1.3,"v":0.01},{"t":1.35,"v":-0.06},{"t":1.4,"v":0.03},{"t":1.45,"v":-0.025},{"t":1.5,"v":0.025},{"t":1.55,"v":-0.055},{"t":1.6,"v":0.04},{"t":1.65,"v":-0.04},
{"t":1.68,"v":1.17},{"t":1.7,"v":-1.07},{"t":1.72,"v":0.58},{"t":1.75,"v":-0.22},{"t":1.8,"v":0.2},{"t":1.85,"v":-0.1},{"t":1.9,"v":0.28},{"t":1.95,"v":-0.2},{"t":2,"v":0.22},{"t":2.05,"v":-0.13},{"t":2.1,"v":0.09},{"t":2.15,"v":-0.22},{"t":2.2,"v":0.18},{"t":2.25,"v":-0.07},{"t":2.3,"v":0.15},{"t":2.35,"v":-0.2},{"t":2.4,"v":0.22},{"t":2.45,"v":-0.13},{"t":2.5,"v":0.09},{"t":2.55,"v":-0.22},{"t":2.6,"v":0.18},
{"t":2.63,"v":1.52},{"t":2.65,"v":-1.52},{"t":2.67,"v":0.3},{"t":2.7,"v":-0.3},{"t":2.75,"v":0.4},{"t":2.8,"v":-0.45},{"t":2.85,"v":0.27},{"t":2.9,"v":-0.3},{"t":2.95,"v":0.49},{"t":3,"v":-0.36},{"t":3.05,"v":0.13},{"t":3.1,"v":-0.32},{"t":3.15,"v":0.22},{"t":3.2,"v":-0.25},{"t":3.25,"v":0.15},{"t":3.3,"v":-0.1},{"t":3.35,"v":0.2},{"t":3.4,"v":-0.3},{"t":3.45,"v":0.08},{"t":3.5,"v":-0.18},
{"t":3.54,"v":0.4},{"t":3.56,"v":-0.65},{"t":3.58,"v":0.2},{"t":3.6,"v":-0.45},{"t":3.65,"v":0.27},{"t":3.7,"v":-0.18},{"t":3.75,"v":0.47},{"t":3.8,"v":-0.5},{"t":3.85,"v":0.135},{"t":3.9,"v":-0.315},{"t":3.95,"v":0.072},{"t":4,"v":-0.08},{"t":4.05,"v":0.048},{"t":4.1,"v":-0.032},{"t":4.15,"v":0.08},{"t":4.2,"v":-0.064},{"t":4.25,"v":0.024},{"t":4.3,"v":-0.056},{"t":4.35,"v":0.072},{"t":4.4,"v":-0.08},{"t":4.45,"v":0.048},{"t":4.5,"v":-0.032},{"t":4.55,"v":0.08},{"t":4.6,"v":-0.064},{"t":4.65,"v":0.024},{"t":4.7,"v":-0.056},{"t":4.75,"v":0.072},
{"t":4.8,"v":0.33},{"t":4.825,"v":-0.32},{"t":4.85,"v":0.18},{"t":4.875,"v":-0.45},{"t":4.9,"v":0.26},{"t":4.925,"v":-0.2},{"t":4.95,"v":0.13},{"t":4.975,"v":-0.38},{"t":5,"v":0.3},{"t":5.025,"v":-0.27},{"t":5.05,"v":0.21},{"t":5.075,"v":-0.32},{"t":5.1,"v":0.1},{"t":5.125,"v":-0.45},{"t":5.15,"v":0.33},{"t":5.175,"v":-0.2},
{"t":5.2,"v":0.18},{"t":5.225,"v":-0.47},{"t":5.25,"v":0.26},{"t":5.275,"v":-0.33},{"t":5.3,"v":0.13},{"t":5.325,"v":-0.39},{"t":5.35,"v":0.3},{"t":5.375,"v":-0.55},{"t":5.4,"v":0.21},{"t":5.425,"v":-0.25},{"t":5.45,"v":0.1},{"t":5.475,"v":-0.47},{"t":5.5,"v":0.33},{"t":5.525,"v":-0.33},{"t":5.55,"v":0.63},{"t":5.575,"v":-0.8},
{"t":5.6,"v":0.44},{"t":5.625,"v":-0.46},{"t":5.65,"v":0.22},{"t":5.675,"v":-0.65},{"t":5.7,"v":0.5},{"t":5.725,"v":-0.29},{"t":5.75,"v":0.36},{"t":5.775,"v":-0.55},{"t":5.8,"v":0.17},{"t":5.825,"v":-0.39},{"t":5.85,"v":0.55},{"t":5.875,"v":-0.46},{"t":5.9,"v":0.3},{"t":5.925,"v":-0.65},{"t":5.95,"v":0.44},{"t":5.975,"v":-0.29},
{"t":6,"v":0.22},{"t":6.025,"v":-0.64},{"t":6.05,"v":0.59},{"t":6.075,"v":-0.45},{"t":6.1,"v":0.42},{"t":6.125,"v":-0.53},{"t":6.15,"v":0.2},{"t":6.175,"v":-0.75},{"t":6.2,"v":0.65},{"t":6.225,"v":-0.34},{"t":6.25,"v":0.36},{"t":6.275,"v":-0.64},{"t":6.3,"v":0.63},{"t":6.325,"v":-0.45},{"t":6.35,"v":0.26},{"t":6.375,"v":-0.53},{"t":6.4,"v":0.59},{"t":6.425,"v":-0.75},{"t":6.45,"v":0.42},{"t":6.475,"v":-0.34},
{"t":6.5,"v":0.23},{"t":6.525,"v":-0.75},{"t":6.55,"v":0.75},{"t":6.575,"v":-0.53},{"t":6.6,"v":0.41},{"t":6.625,"v":-0.62},{"t":6.65,"v":0.6},{"t":6.675,"v":-0.88},{"t":6.7,"v":0.3},{"t":6.725,"v":-0.4},{"t":6.75,"v":0.68},{"t":6.775,"v":-0.88},{"t":6.8,"v":0.49},{"t":6.825,"v":-0.53},{"t":6.85,"v":0.67},{"t":6.875,"v":-0.62},{"t":6.9,"v":0.41},{"t":6.925,"v":-0.75},{"t":6.95,"v":0.6},{"t":6.975,"v":-0.4},
{"t":7,"v":0.3},{"t":7.025,"v":-0.51},{"t":7.05,"v":0.74},{"t":7.075,"v":-0.36},{"t":7.1,"v":0.41},{"t":7.125,"v":-0.42},{"t":7.15,"v":0.59},{"t":7.175,"v":-0.6},{"t":7.2,"v":0.3},{"t":7.225,"v":-0.27},{"t":7.25,"v":0.67},{"t":7.275,"v":-0.51},{"t":7.3,"v":0.48},{"t":7.325,"v":-0.36},{"t":7.35,"v":0.22},{"t":7.375,"v":-0.42},{"t":7.4,"v":0.55},{"t":7.425,"v":-0.6},{"t":7.45,"v":0.63},{"t":7.475,"v":-0.27},{"t":7.5,"v":0.35},{"t":7.525,"v":-0.51},{"t":7.55,"v":0.2},{"t":7.575,"v":-1.1},
{"t":7.6,"v":0.5},{"t":7.625,"v":-0.37},{"t":7.65,"v":0.3},{"t":7.675,"v":-0.53},{"t":7.7,"v":0.44},{"t":7.725,"v":-0.24},{"t":7.75,"v":0.22},{"t":7.775,"v":-0.45},{"t":7.8,"v":0.5},{"t":7.825,"v":-0.32},{"t":7.85,"v":0.36},{"t":7.875,"v":-0.37},{"t":7.9,"v":0.17},{"t":7.925,"v":-0.53},{"t":7.95,"v":0.55},{"t":7.975,"v":-0.24},{"t":8,"v":0.3},{"t":8.025,"v":-0.45},{"t":8.05,"v":0.44},{"t":8.075,"v":-0.32},
{"t":8.1,"v":0.14},{"t":8.125,"v":-0.29},{"t":8.15,"v":0.32},{"t":8.175,"v":-0.42},{"t":8.2,"v":0.23},{"t":8.225,"v":-0.19},{"t":8.25,"v":0.11},{"t":8.275,"v":-0.36},{"t":8.3,"v":0.35},{"t":8.325,"v":-0.25},{"t":8.35,"v":0.19},{"t":8.375,"v":-0.29},{"t":8.4,"v":0.28},{"t":8.425,"v":-0.42},{"t":8.45,"v":0.14},{"t":8.475,"v":-0.19},{"t":8.5,"v":0.32},{"t":8.525,"v":-0.36},{"t":8.55,"v":0.23},{"t":8.575,"v":-0.25},{"t":8.6,"v":0.11},{"t":8.625,"v":-0.29},{"t":8.65,"v":0.35},{"t":8.675,"v":-0.42},{"t":8.7,"v":0.19},{"t":8.725,"v":-0.19},{"t":8.75,"v":0.28},{"t":8.775,"v":-0.36},{"t":8.8,"v":0.14},{"t":8.825,"v":-0.25},{"t":8.85,"v":0.32},{"t":8.875,"v":-0.29},{"t":8.9,"v":0.23},{"t":8.925,"v":-0.42},{"t":8.95,"v":0.11},{"t":8.975,"v":-0.19},
{"t":9,"v":0.38},{"t":9.025,"v":-0.3},{"t":9.05,"v":0.21},{"t":9.075,"v":-0.21},{"t":9.1,"v":0.3},{"t":9.125,"v":-0.25},{"t":9.15,"v":0.38},{"t":9.175,"v":-0.35},
{"t":9.2,"v":0.12},{"t":9.225,"v":-0.16},{"t":9.25,"v":0.28},{"t":9.275,"v":-0.3},{"t":9.3,"v":0.2},{"t":9.325,"v":-0.21},{"t":9.35,"v":0.09},{"t":9.375,"v":-0.25},{"t":9.4,"v":0.31},{"t":9.425,"v":-0.35},{"t":9.45,"v":0.17},{"t":9.475,"v":-0.16},{"t":9.5,"v":0.25},{"t":9.525,"v":-0.3},{"t":9.55,"v":0.12},{"t":9.575,"v":-0.21},{"t":9.6,"v":0.28},{"t":9.625,"v":-0.25},{"t":9.65,"v":0.2},{"t":9.675,"v":-0.35},{"t":9.7,"v":0.09},{"t":9.725,"v":-0.16},{"t":9.75,"v":0.31},{"t":9.775,"v":-0.3},{"t":9.8,"v":0.17},{"t":9.825,"v":-0.21},{"t":9.85,"v":0.31},{"t":9.875,"v":-0.25},{"t":9.9,"v":0.12},{"t":9.925,"v":-0.35},{"t":9.95,"v":0.28},{"t":9.975,"v":-0.16},
{"t":10,"v":0.2},{"t":10.025,"v":-0.3},{"t":10.05,"v":0.09},{"t":10.075,"v":-0.21},{"t":10.1,"v":0.31},{"t":10.125,"v":-0.35},{"t":10.15,"v":0.17},{"t":10.175,"v":-0.16},{"t":10.2,"v":0.25},{"t":10.225,"v":-0.3},{"t":10.25,"v":0.12},{"t":10.275,"v":-0.21},{"t":10.3,"v":0.28},{"t":10.325,"v":-0.25},{"t":10.35,"v":0.2},{"t":10.375,"v":-0.35},{"t":10.4,"v":0.09},{"t":10.425,"v":-0.16},{"t":10.45,"v":0.31},{"t":10.475,"v":-0.3},
{"t":10.5,"v":0.11},{"t":10.525,"v":-0.12},{"t":10.55,"v":0.16},{"t":10.575,"v":-0.14},{"t":10.6,"v":0.08},{"t":10.625,"v":-0.2},{"t":10.65,"v":0.18},{"t":10.675,"v":-0.09},{"t":10.7,"v":0.13},{"t":10.725,"v":-0.17},{"t":10.75,"v":0.06},{"t":10.775,"v":-0.12},{"t":10.8,"v":0.2},{"t":10.825,"v":-0.14},{"t":10.85,"v":0.11},{"t":10.875,"v":-0.2},{"t":10.9,"v":0.16},{"t":10.925,"v":-0.09},{"t":10.95,"v":0.08},{"t":10.975,"v":-0.17},
{"t":11,"v":0.23},{"t":11.025,"v":-0.19},{"t":11.05,"v":0.16},{"t":11.075,"v":-0.22},{"t":11.1,"v":0.08},{"t":11.125,"v":-0.32},{"t":11.15,"v":0.25},{"t":11.175,"v":-0.14},{"t":11.2,"v":0.14},{"t":11.225,"v":-0.27},{"t":11.25,"v":0.2},{"t":11.275,"v":-0.19},{"t":11.3,"v":0.1},{"t":11.325,"v":-0.22},{"t":11.35,"v":0.23},{"t":11.375,"v":-0.32},{"t":11.4,"v":0.16},{"t":11.425,"v":-0.14},{"t":11.45,"v":0.08},{"t":11.475,"v":-0.27},
{"t":11.5,"v":0.22},{"t":11.525,"v":-0.12},{"t":11.55,"v":0.12},{"t":11.575,"v":-0.2},{"t":11.6,"v":0.18},{"t":11.625,"v":-0.09},{"t":11.65,"v":0.09},{"t":11.675,"v":-0.17},{"t":11.7,"v":0.2},{"t":11.725,"v":-0.12},{"t":11.75,"v":0.14},{"t":11.775,"v":-0.14},{"t":11.8,"v":0.07},{"t":11.825,"v":-0.2},{"t":11.85,"v":0.22},{"t":11.875,"v":-0.09},{"t":11.9,"v":0.12},{"t":11.925,"v":-0.17},{"t":11.95,"v":0.18},{"t":11.975,"v":-0.12},
{"t":12,"v":0.09},{"t":12.025,"v":-0.14},{"t":12.05,"v":0.2},{"t":12.075,"v":-0.2},{"t":12.1,"v":0.14},{"t":12.125,"v":-0.09},{"t":12.15,"v":0.07},{"t":12.175,"v":-0.17},{"t":12.2,"v":0.22},{"t":12.225,"v":-0.12},{"t":12.25,"v":0.12},{"t":12.275,"v":-0.14},{"t":12.3,"v":0.18},{"t":12.325,"v":-0.2},{"t":12.35,"v":0.09},{"t":12.375,"v":-0.09},{"t":12.4,"v":0.2},{"t":12.425,"v":-0.17},{"t":12.45,"v":0.14},{"t":12.475,"v":-0.12},
{"t":12.5,"v":0.15},{"t":12.55,"v":-0.1},{"t":12.6,"v":0.12},{"t":12.65,"v":-0.08},{"t":12.7,"v":0.1},{"t":12.75,"v":-0.12},{"t":12.8,"v":0.08},{"t":12.85,"v":-0.1},{"t":12.9,"v":0.12},{"t":12.95,"v":-0.06},{"t":13,"v":0.1},{"t":13.05,"v":-0.12},{"t":13.1,"v":0.08},{"t":13.15,"v":-0.1},{"t":13.2,"v":0.12},{"t":13.25,"v":-0.08},{"t":13.3,"v":0.1},{"t":13.35,"v":-0.12},{"t":13.4,"v":0.06},{"t":13.45,"v":-0.1},{"t":13.5,"v":0.1},{"t":13.55,"v":-0.08},{"t":13.6,"v":0.12},{"t":13.65,"v":-0.1},{"t":13.7,"v":0.1},{"t":13.75,"v":-0.08},{"t":13.8,"v":0.14},{"t":13.85,"v":-0.1},{"t":13.9,"v":0.08},{"t":13.95,"v":-0.1},{"t":14,"v":0.05}
],
"b":[
{"t":0,"y":0.02,"z":-0.021},{"t":0.05,"y":-0.015,"z":0.027},{"t":0.1,"y":0.01,"z":-0.012},{"t":0.15,"y":-0.02,"z":0.03},{"t":0.2,"y":0.015,"z":-0.024},{"t":0.25,"y":-0.01,"z":0.015},{"t":0.3,"y":0.02,"z":-0.03},{"t":0.35,"y":-0.015,"z":0.018},{"t":0.4,"y":0.01,"z":-0.021},{"t":0.45,"y":-0.02,"z":0.027},{"t":0.5,"y":0.015,"z":-0.012},{"t":0.55,"y":-0.01,"z":0.03},{"t":0.6,"y":0.02,"z":-0.024},{"t":0.65,"y":-0.015,"z":0.015},{"t":0.7,"y":0.01,"z":-0.03},{"t":0.75,"y":-0.02,"z":0.018},{"t":0.8,"y":0.015,"z":-0.021},{"t":0.85,"y":-0.01,"z":0.027},{"t":0.9,"y":0.02,"z":-0.012},{"t":0.95,"y":-0.015,"z":0.03},{"t":1,"y":0.01,"z":-0.024},{"t":1.05,"y":-0.02,"z":0.015},{"t":1.1,"y":0.015,"z":-0.03},{"t":1.15,"y":-0.01,"z":0.018},{"t":1.2,"y":0.02,"z":-0.021},{"t":1.25,"y":-0.015,"z":0.027},{"t":1.3,"y":0.01,"z":-0.012},{"t":1.35,"y":-0.02,"z":0.03},{"t":1.4,"y":0.015,"z":-0.024},{"t":1.45,"y":-0.01,"z":0.015},{"t":1.5,"y":0.02,"z":-0.03},{"t":1.55,"y":-0.015,"z":0.018},{"t":1.6,"y":0.01,"z":-0.021},{"t":1.65,"y":-0.02,"z":0.027},
{"t":1.68,"y":0.1,"z":0.5},{"t":1.7,"y":-0.15,"z":-1.07},{"t":1.72,"y":0.08,"z":0.48},{"t":1.75,"y":-0.04,"z":-0.3},{"t":1.8,"y":0.04,"z":0.22},{"t":1.85,"y":-0.03,"z":-0.2},{"t":1.9,"y":0.02,"z":0.15},{"t":1.95,"y":-0.02,"z":-0.22},{"t":2,"y":0.015,"z":0.12},{"t":2.05,"y":-0.01,"z":-0.18},{"t":2.1,"y":0.02,"z":0.08},{"t":2.15,"y":-0.015,"z":-0.2},{"t":2.2,"y":0.01,"z":0.16},{"t":2.25,"y":-0.02,"z":-0.1},{"t":2.3,"y":0.015,"z":0.2},{"t":2.35,"y":-0.01,"z":-0.12},{"t":2.4,"y":0.02,"z":0.14},{"t":2.45,"y":-0.015,"z":-0.18},{"t":2.5,"y":0.01,"z":0.08},{"t":2.55,"y":-0.02,"z":-0.2},{"t":2.6,"y":0.015,"z":0.16},
{"t":2.63,"y":0.12,"z":0.87},{"t":2.65,"y":-0.1,"z":-1},{"t":2.67,"y":0.06,"z":0.4},{"t":2.7,"y":-0.03,"z":-0.4},{"t":2.75,"y":0.022,"z":0.24},{"t":2.8,"y":-0.015,"z":-0.28},{"t":2.85,"y":0.03,"z":0.36},{"t":2.9,"y":-0.022,"z":-0.16},{"t":2.95,"y":0.015,"z":0.4},{"t":3,"y":-0.03,"z":-0.32},{"t":3.05,"y":0.022,"z":0.2},{"t":3.1,"y":-0.015,"z":-0.4},{"t":3.15,"y":0.02,"z":0.12},{"t":3.2,"y":-0.015,"z":-0.14},{"t":3.25,"y":0.01,"z":0.18},{"t":3.3,"y":-0.02,"z":-0.08},{"t":3.35,"y":0.015,"z":0.2},{"t":3.4,"y":-0.01,"z":-0.16},{"t":3.45,"y":0.02,"z":0.1},{"t":3.5,"y":-0.015,"z":-0.2},
{"t":3.54,"y":0.03,"z":0.9},{"t":3.56,"y":-0.05,"z":-0.82},{"t":3.58,"y":0.02,"z":0.75},{"t":3.6,"y":-0.02,"z":-0.245},{"t":3.65,"y":0.015,"z":0.315},{"t":3.7,"y":-0.01,"z":-0.14},{"t":3.75,"y":0.02,"z":0.35},{"t":3.8,"y":-0.015,"z":-0.28},{"t":3.85,"y":0.01,"z":0.175},{"t":3.9,"y":-0.02,"z":-0.35},{"t":3.95,"y":0.015,"z":0.048},{"t":4,"y":-0.01,"z":-0.056},{"t":4.05,"y":0.02,"z":0.072},{"t":4.1,"y":-0.015,"z":-0.032},{"t":4.15,"y":0.01,"z":0.08},{"t":4.2,"y":-0.02,"z":-0.064},{"t":4.25,"y":0.015,"z":0.04},{"t":4.3,"y":-0.01,"z":-0.08},{"t":4.35,"y":0.02,"z":0.048},{"t":4.4,"y":-0.015,"z":-0.056},{"t":4.45,"y":0.01,"z":0.072},{"t":4.5,"y":-0.02,"z":-0.032},{"t":4.55,"y":0.015,"z":0.08},{"t":4.6,"y":-0.01,"z":-0.064},{"t":4.65,"y":0.02,"z":0.04},{"t":4.7,"y":-0.015,"z":-0.08},{"t":4.75,"y":0.01,"z":0.048},
{"t":4.8,"y":-0.04,"z":-0.21},{"t":4.85,"y":0.03,"z":0.27},{"t":4.9,"y":-0.02,"z":-0.12},{"t":4.95,"y":0.04,"z":0.3},{"t":5,"y":-0.03,"z":-0.24},{"t":5.05,"y":0.02,"z":0.15},{"t":5.1,"y":-0.04,"z":-0.3},{"t":5.15,"y":0.03,"z":0.18},{"t":5.2,"y":-0.02,"z":-0.21},{"t":5.25,"y":0.06,"z":0.315},{"t":5.3,"y":-0.045,"z":-0.14},{"t":5.35,"y":0.03,"z":0.35},{"t":5.4,"y":-0.06,"z":-0.28},{"t":5.45,"y":0.045,"z":0.175},{"t":5.5,"y":-0.03,"z":-0.35},{"t":5.54,"y":0.05,"z":0.3},{"t":5.56,"y":-0.1,"z":-0.45},{"t":5.6,"y":0.045,"z":0.315},{"t":5.65,"y":-0.03,"z":-0.405},{"t":5.7,"y":0.06,"z":0.18},{"t":5.75,"y":-0.045,"z":-0.45},{"t":5.8,"y":0.03,"z":0.36},{"t":5.85,"y":-0.06,"z":-0.225},{"t":5.9,"y":0.045,"z":0.45},{"t":5.95,"y":-0.03,"z":-0.27},{"t":6,"y":0.06,"z":0.315},{"t":6.05,"y":-0.045,"z":-0.495},{"t":6.1,"y":0.03,"z":0.22},{"t":6.15,"y":-0.06,"z":-0.55},{"t":6.2,"y":0.045,"z":0.44},{"t":6.25,"y":-0.03,"z":-0.275},{"t":6.3,"y":0.06,"z":0.55},{"t":6.35,"y":-0.045,"z":-0.33},{"t":6.4,"y":0.03,"z":0.385},{"t":6.45,"y":-0.06,"z":-0.495},{"t":6.5,"y":0.045,"z":0.22},
{"t":6.55,"y":-0.03,"z":-0.6},{"t":6.6,"y":0.06,"z":0.76},{"t":6.62,"y":-0.12,"z":-1.33},{"t":6.65,"y":0.045,"z":0.3},{"t":6.7,"y":-0.03,"z":-0.6},{"t":6.72,"y":0.05,"z":0.36},{"t":6.75,"y":-0.06,"z":-0.42},{"t":6.8,"y":0.045,"z":0.54},{"t":6.85,"y":-0.03,"z":-0.24},{"t":6.9,"y":0.06,"z":0.6},{"t":6.95,"y":-0.045,"z":-0.48},{"t":7,"y":0.03,"z":0.3},{"t":7.02,"y":-0.04,"z":-0.35},{"t":7.05,"y":0.06,"z":0.275},{"t":7.1,"y":-0.045,"z":-0.55},{"t":7.15,"y":0.03,"z":0.33},{"t":7.2,"y":-0.06,"z":-0.385},{"t":7.25,"y":0.045,"z":0.495},{"t":7.3,"y":-0.03,"z":-0.22},{"t":7.35,"y":0.06,"z":0.55},{"t":7.4,"y":-0.045,"z":-0.44},{"t":7.45,"y":0.03,"z":0.275},{"t":7.5,"y":-0.06,"z":-0.55},{"t":7.52,"y":0.04,"z":0.3},{"t":7.55,"y":-0.045,"z":-0.6},{"t":7.6,"y":0.03,"z":0.8},
{"t":7.65,"y":-0.06,"z":-0.4},{"t":7.7,"y":0.045,"z":0.35},{"t":7.75,"y":-0.03,"z":-0.45},{"t":7.8,"y":0.06,"z":0.3},{"t":7.85,"y":-0.045,"z":-0.35},{"t":7.9,"y":0.03,"z":0.45},{"t":7.95,"y":-0.06,"z":-0.25},{"t":8,"y":0.045,"z":0.4},{"t":8.05,"y":-0.03,"z":-0.45},{"t":8.1,"y":0.02,"z":0.3},{"t":8.15,"y":-0.015,"z":-0.25},{"t":8.2,"y":0.01,"z":0.35},{"t":8.25,"y":-0.02,"z":-0.3},{"t":8.3,"y":0.015,"z":0.2},{"t":8.35,"y":-0.01,"z":-0.35},{"t":8.4,"y":0.02,"z":0.3},{"t":8.45,"y":-0.015,"z":-0.15},{"t":8.5,"y":0.01,"z":0.35},{"t":8.55,"y":-0.02,"z":-0.3},{"t":8.6,"y":0.015,"z":0.25},{"t":8.65,"y":-0.01,"z":-0.35},{"t":8.7,"y":0.02,"z":0.3},{"t":8.75,"y":-0.015,"z":-0.2},{"t":8.8,"y":0.01,"z":0.35},{"t":8.85,"y":-0.02,"z":-0.3},{"t":8.9,"y":0.015,"z":0.2},{"t":8.95,"y":-0.01,"z":-0.35},{"t":9,"y":0.02,"z":0.3},{"t":9.05,"y":-0.015,"z":-0.35},{"t":9.1,"y":0.01,"z":0.3},{"t":9.15,"y":-0.02,"z":-0.25},{"t":9.2,"y":0.015,"z":0.35},{"t":9.25,"y":-0.01,"z":-0.2},{"t":9.3,"y":0.02,"z":0.25},{"t":9.35,"y":-0.015,"z":-0.25},{"t":9.4,"y":0.01,"z":0.15},{"t":9.45,"y":-0.02,"z":-0.25},{"t":9.5,"y":0.015,"z":0.2},{"t":9.55,"y":-0.01,"z":-0.2},{"t":9.6,"y":0.02,"z":0.25},{"t":9.65,"y":-0.015,"z":-0.15},{"t":9.7,"y":0.01,"z":0.2},{"t":9.75,"y":-0.02,"z":-0.25},{"t":9.8,"y":0.015,"z":0.2},{"t":9.85,"y":-0.01,"z":-0.2},{"t":9.9,"y":0.02,"z":0.25},{"t":9.95,"y":-0.015,"z":-0.2},{"t":10,"y":0.01,"z":0.15},{"t":10.05,"y":-0.02,"z":-0.25},{"t":10.1,"y":0.015,"z":0.2},{"t":10.15,"y":-0.01,"z":-0.2},{"t":10.2,"y":0.02,"z":0.25},{"t":10.25,"y":-0.015,"z":-0.15},{"t":10.3,"y":0.01,"z":0.2},{"t":10.35,"y":-0.02,"z":-0.25},{"t":10.4,"y":0.015,"z":0.2},{"t":10.45,"y":-0.01,"z":-0.2},{"t":10.5,"y":0.02,"z":0.15},{"t":10.55,"y":-0.015,"z":-0.2},{"t":10.6,"y":0.01,"z":0.15},{"t":10.65,"y":-0.02,"z":-0.12},{"t":10.7,"y":0.015,"z":0.2},{"t":10.75,"y":-0.01,"z":-0.18},{"t":10.8,"y":0.02,"z":0.12},{"t":10.85,"y":-0.015,"z":-0.2},{"t":10.9,"y":0.01,"z":0.15},{"t":10.95,"y":-0.02,"z":-0.12},{"t":11,"y":0.015,"z":0.2},{"t":11.05,"y":-0.01,"z":-0.18},{"t":11.1,"y":0.02,"z":0.15},{"t":11.15,"y":-0.015,"z":-0.2},{"t":11.2,"y":0.01,"z":0.12},{"t":11.25,"y":-0.02,"z":-0.18},{"t":11.3,"y":0.015,"z":0.2},{"t":11.35,"y":-0.01,"z":-0.15},{"t":11.4,"y":0.02,"z":0.18},{"t":11.45,"y":-0.015,"z":-0.2},{"t":11.5,"y":0.01,"z":0.15},{"t":11.55,"y":-0.02,"z":-0.15},{"t":11.6,"y":0.015,"z":0.18},{"t":11.65,"y":-0.01,"z":-0.12},{"t":11.7,"y":0.02,"z":0.15},{"t":11.75,"y":-0.015,"z":-0.18},{"t":11.8,"y":0.01,"z":0.12},{"t":11.85,"y":-0.02,"z":-0.15},{"t":11.9,"y":0.015,"z":0.18},{"t":11.95,"y":-0.01,"z":-0.12},{"t":12,"y":0.02,"z":0.15},{"t":12.05,"y":-0.015,"z":-0.18},{"t":12.1,"y":0.01,"z":0.12},{"t":12.15,"y":-0.02,"z":-0.15},{"t":12.2,"y":0.015,"z":0.18},{"t":12.25,"y":-0.01,"z":-0.12},{"t":12.3,"y":0.02,"z":0.15},{"t":12.35,"y":-0.015,"z":-0.15},{"t":12.4,"y":0.01,"z":0.12},{"t":12.45,"y":-0.02,"z":-0.12},{"t":12.5,"y":0.015,"z":0.15},{"t":12.55,"y":-0.01,"z":-0.1},{"t":12.6,"y":0.02,"z":0.08},{"t":12.65,"y":-0.015,"z":-0.1},{"t":12.7,"y":0.01,"z":0.1},{"t":12.75,"y":-0.02,"z":-0.06},{"t":12.8,"y":0.015,"z":0.1},{"t":12.85,"y":-0.01,"z":-0.08},{"t":12.9,"y":0.02,"z":0.06},{"t":12.95,"y":-0.015,"z":-0.1},{"t":13,"y":0.01,"z":0.08},{"t":13.05,"y":-0.02,"z":-0.06},{"t":13.1,"y":0.015,"z":0.1},{"t":13.15,"y":-0.01,"z":-0.08},{"t":13.2,"y":0.02,"z":0.1},{"t":13.25,"y":-0.015,"z":-0.1},{"t":13.3,"y":0.01,"z":0.06},{"t":13.35,"y":-0.02,"z":-0.08},{"t":13.4,"y":0.015,"z":0.1},{"t":13.45,"y":-0.01,"z":-0.1},{"t":13.5,"y":0.02,"z":0.08},{"t":13.55,"y":-0.015,"z":-0.06},{"t":13.6,"y":0.01,"z":0.1},{"t":13.65,"y":-0.02,"z":-0.1},{"t":13.7,"y":0.015,"z":0.08},{"t":13.75,"y":-0.01,"z":-0.1},{"t":13.8,"y":0.02,"z":0.1},{"t":13.85,"y":-0.015,"z":-0.08},{"t":13.9,"y":0.01,"z":0.06},{"t":13.95,"y":-0.02,"z":-0.1},{"t":14,"y":0.015,"z":0.05}
],
"c":[
{"t":0,"s":0},{"t":0.3,"s":0},{"t":0.35,"s":5e-9},{"t":0.4,"s":3e-8},{"t":0.45,"s":1e-8},
{"t":0.5,"s":1.4e-7},{"t":0.525,"s":2e-8},{"t":0.55,"s":8e-8},{"t":0.575,"s":3e-8},{"t":0.6,"s":1.2e-7},{"t":0.625,"s":1e-8},{"t":0.65,"s":9e-8},{"t":0.675,"s":-2e-8},{"t":0.7,"s":2.3e-7},{"t":0.725,"s":2e-8},{"t":0.75,"s":1e-7},{"t":0.775,"s":-5e-8},{"t":0.8,"s":1.1e-7},{"t":0.825,"s":3e-8},{"t":0.85,"s":9e-8},{"t":0.875,"s":2e-8},{"t":0.9,"s":2.8e-7},{"t":0.925,"s":2e-8},{"t":0.95,"s":1.2e-7},{"t":0.975,"s":4e-8},
{"t":1,"s":3.7e-7},{"t":1.025,"s":2e-8},{"t":1.05,"s":1.4e-7},{"t":1.075,"s":1e-8},{"t":1.1,"s":1.5e-7},{"t":1.125,"s":3e-8},{"t":1.15,"s":1.1e-7},{"t":1.175,"s":-9.8e-8},{"t":1.2,"s":3.4e-7},{"t":1.225,"s":2e-8},{"t":1.25,"s":1.5e-7},{"t":1.275,"s":2e-8},{"t":1.3,"s":3.6e-7},{"t":1.325,"s":3e-8},{"t":1.35,"s":1.2e-7},{"t":1.375,"s":5e-8},{"t":1.4,"s":1.3e-7},{"t":1.425,"s":2e-8},{"t":1.45,"s":1.4e-7},{"t":1.475,"s":-7.3e-8},{"t":1.5,"s":2.8e-7},{"t":1.525,"s":3e-8},{"t":1.55,"s":1.1e-7},{"t":1.575,"s":2e-8},{"t":1.6,"s":1.2e-7},{"t":1.625,"s":2e-8},{"t":1.65,"s":1.5e-7},{"t":1.675,"s":3e-8},{"t":1.7,"s":3.3e-7},{"t":1.725,"s":2e-8},{"t":1.75,"s":1.3e-7},{"t":1.775,"s":2e-8},{"t":1.8,"s":1.4e-7},{"t":1.825,"s":3e-8},{"t":1.85,"s":1e-7},{"t":1.875,"s":3e-8},{"t":1.9,"s":2.5e-7},{"t":1.925,"s":2e-8},{"t":1.95,"s":1.4e-7},{"t":1.975,"s":2e-8},
{"t":2,"s":3.4e-7},{"t":2.025,"s":3e-8},{"t":2.05,"s":1.2e-7},{"t":2.075,"s":3e-8},{"t":2.1,"s":1.5e-7},{"t":2.125,"s":2e-8},{"t":2.15,"s":1.1e-7},{"t":2.175,"s":2e-8},{"t":2.2,"s":2.9e-7},{"t":2.225,"s":3e-8},{"t":2.25,"s":1.3e-7},{"t":2.275,"s":3e-8},{"t":2.3,"s":3.4e-7},{"t":2.325,"s":2e-8},{"t":2.35,"s":1e-7},{"t":2.375,"s":2e-8},{"t":2.4,"s":1.2e-7},{"t":2.425,"s":3e-8},{"t":2.45,"s":1.3e-7},{"t":2.475,"s":3e-8},{"t":2.5,"s":2.6e-7},{"t":2.525,"s":2e-8},{"t":2.55,"s":1.1e-7},{"t":2.575,"s":2e-8},{"t":2.6,"s":1.5e-7},{"t":2.625,"s":3e-8},{"t":2.65,"s":1.2e-7},{"t":2.675,"s":3e-8},{"t":2.7,"s":2.7e-7},{"t":2.725,"s":2e-8},{"t":2.75,"s":1.3e-7},{"t":2.775,"s":2e-8},{"t":2.8,"s":3.5e-7},{"t":2.825,"s":3e-8},{"t":2.85,"s":1.1e-7},{"t":2.875,"s":3e-8},{"t":2.9,"s":1.3e-7},{"t":2.925,"s":2e-8},{"t":2.95,"s":1.4e-7},{"t":2.975,"s":2e-8},
{"t":3,"s":3.3e-7},{"t":3.025,"s":3e-8},{"t":3.05,"s":1.2e-7},{"t":3.075,"s":3e-8},{"t":3.1,"s":1.6e-7},{"t":3.125,"s":2e-8},{"t":3.15,"s":1.3e-7},{"t":3.175,"s":2e-8},{"t":3.2,"s":4.6e-7},{"t":3.225,"s":3e-8},{"t":3.25,"s":1.2e-7},{"t":3.275,"s":-6e-8},{"t":3.3,"s":1.4e-7},{"t":3.325,"s":2e-8},{"t":3.35,"s":1.1e-7},{"t":3.375,"s":3e-8},{"t":3.4,"s":3.5e-7},{"t":3.425,"s":2e-8},{"t":3.45,"s":1.3e-7},{"t":3.475,"s":2e-8},{"t":3.5,"s":3.9e-7},{"t":3.525,"s":3e-8},{"t":3.55,"s":1.2e-7},{"t":3.575,"s":3e-8},{"t":3.6,"s":1.2e-7},{"t":3.625,"s":2e-8},{"t":3.65,"s":1e-7},{"t":3.675,"s":-5.8e-8},{"t":3.7,"s":3.1e-7},{"t":3.725,"s":2e-8},{"t":3.75,"s":1.2e-7},{"t":3.775,"s":2e-8},{"t":3.8,"s":1.3e-7},{"t":3.825,"s":3e-8},{"t":3.85,"s":1.1e-7},{"t":3.875,"s":3e-8},{"t":3.9,"s":2.6e-7},{"t":3.925,"s":2e-8},{"t":3.95,"s":1.3e-7},{"t":3.975,"s":2e-8},
{"t":4,"s":2.9e-7},{"t":4.025,"s":3e-8},{"t":4.05,"s":1.4e-7},{"t":4.075,"s":3e-8},{"t":4.1,"s":1.2e-7},{"t":4.125,"s":2e-8},{"t":4.15,"s":1.5e-7},{"t":4.175,"s":2e-8},{"t":4.2,"s":2.5e-7},{"t":4.225,"s":3e-8},{"t":4.25,"s":1.3e-7},{"t":4.275,"s":3e-8},{"t":4.3,"s":1.4e-7},{"t":4.325,"s":2e-8},{"t":4.35,"s":1.6e-7},{"t":4.375,"s":2e-8},{"t":4.4,"s":2.8e-7},{"t":4.425,"s":3e-8},{"t":4.45,"s":1.4e-7},{"t":4.475,"s":3e-8},{"t":4.5,"s":3.4e-7},{"t":4.525,"s":2e-8},{"t":4.55,"s":1.5e-7},{"t":4.575,"s":2e-8},{"t":4.6,"s":1.6e-7},{"t":4.625,"s":3e-8},{"t":4.65,"s":1.3e-7},{"t":4.675,"s":3e-8},{"t":4.7,"s":4e-7},{"t":4.725,"s":2e-8},{"t":4.75,"s":1.6e-7},{"t":4.775,"s":2e-8},{"t":4.8,"s":2e-7},{"t":4.825,"s":3e-8},{"t":4.85,"s":1.5e-7},{"t":4.875,"s":3e-8},{"t":4.9,"s":3.6e-7},{"t":4.925,"s":3e-8},{"t":4.95,"s":1.8e-7},{"t":4.975,"s":3e-8},
{"t":5,"s":4.5e-7},{"t":5.025,"s":3e-8},{"t":5.05,"s":2e-7},{"t":5.075,"s":3e-8},{"t":5.1,"s":6.1e-7},{"t":5.125,"s":3e-8},{"t":5.15,"s":2.2e-7},{"t":5.175,"s":3e-8},{"t":5.2,"s":2.2e-7},{"t":5.225,"s":4e-8},{"t":5.25,"s":2.4e-7},{"t":5.275,"s":4e-8},{"t":5.3,"s":5e-7},{"t":5.325,"s":3e-8},{"t":5.35,"s":2.3e-7},{"t":5.375,"s":3e-8},{"t":5.4,"s":6.2e-7},{"t":5.425,"s":4e-8},{"t":5.45,"s":2.5e-7},{"t":5.475,"s":4e-8},{"t":5.5,"s":2.5e-7},{"t":5.525,"s":3e-8},{"t":5.55,"s":3e-7},{"t":5.575,"s":-8.4e-8},{"t":5.6,"s":7.5e-7},{"t":5.625,"s":4e-8},{"t":5.65,"s":2.8e-7},{"t":5.675,"s":4e-8},{"t":5.7,"s":9.1e-7},{"t":5.725,"s":3e-8},{"t":5.75,"s":3.2e-7},{"t":5.775,"s":3e-8},{"t":5.8,"s":3e-7},{"t":5.825,"s":4e-8},{"t":5.85,"s":3.5e-7},{"t":5.875,"s":4e-8},{"t":5.9,"s":9.3e-7},{"t":5.925,"s":3e-8},{"t":5.95,"s":3.4e-7},{"t":5.975,"s":3e-8},
{"t":6,"s":4.5e-7},{"t":6.025,"s":4e-8},{"t":6.05,"s":4.2e-7},{"t":6.075,"s":4e-8},{"t":6.1,"s":1.18e-6},{"t":6.125,"s":5e-8},{"t":6.15,"s":4.5e-7},{"t":6.175,"s":5e-8},{"t":6.2,"s":5.5e-7},{"t":6.225,"s":4e-8},{"t":6.25,"s":4.8e-7},{"t":6.275,"s":4e-8},{"t":6.3,"s":1.05e-6},{"t":6.325,"s":5e-8},{"t":6.35,"s":5e-7},{"t":6.375,"s":5e-8},{"t":6.4,"s":1.32e-6},{"t":6.425,"s":4e-8},{"t":6.45,"s":5.2e-7},{"t":6.475,"s":4e-8},{"t":6.5,"s":6e-7},{"t":6.525,"s":5e-8},{"t":6.55,"s":5.5e-7},{"t":6.575,"s":5e-8},{"t":6.6,"s":1.1e-6},{"t":6.625,"s":-1.26e-7},{"t":6.65,"s":1.2e-6},{"t":6.675,"s":5e-8},{"t":6.7,"s":5.8e-7},{"t":6.725,"s":5e-8},{"t":6.75,"s":1.52e-6},{"t":6.775,"s":5e-8},{"t":6.8,"s":5.6e-7},{"t":6.825,"s":5e-8},{"t":6.85,"s":6e-7},{"t":6.875,"s":4e-8},{"t":6.9,"s":5.5e-7},{"t":6.925,"s":4e-8},{"t":6.95,"s":1.5e-6},{"t":6.975,"s":5e-8},
{"t":7,"s":5.4e-7},{"t":7.025,"s":5e-8},{"t":7.05,"s":1.38e-6},{"t":7.075,"s":4e-8},{"t":7.1,"s":5.2e-7},{"t":7.125,"s":4e-8},{"t":7.15,"s":1.58e-6},{"t":7.175,"s":5e-8},{"t":7.2,"s":5e-7},{"t":7.225,"s":5e-8},{"t":7.25,"s":5.5e-7},{"t":7.275,"s":4e-8},{"t":7.3,"s":4.8e-7},{"t":7.325,"s":4e-8},{"t":7.35,"s":1.48e-6},{"t":7.375,"s":5e-8},{"t":7.4,"s":5e-7},{"t":7.425,"s":5e-8},{"t":7.45,"s":1.2e-6},{"t":7.475,"s":4e-8},{"t":7.5,"s":4.6e-7},{"t":7.525,"s":4e-8},{"t":7.55,"s":5e-7},{"t":7.575,"s":5e-8},{"t":7.6,"s":4.5e-7},{"t":7.625,"s":5e-8},{"t":7.65,"s":1.45e-6},{"t":7.675,"s":4e-8},{"t":7.7,"s":4.4e-7},{"t":7.725,"s":4e-8},{"t":7.75,"s":1.1e-6},{"t":7.775,"s":5e-8},{"t":7.8,"s":4.2e-7},{"t":7.825,"s":5e-8},{"t":7.85,"s":4.5e-7},{"t":7.875,"s":4e-8},{"t":7.9,"s":4e-7},{"t":7.925,"s":4e-8},{"t":7.95,"s":1.25e-6},{"t":7.975,"s":5e-8},
{"t":8,"s":4.1e-7},{"t":8.025,"s":5e-8},{"t":8.05,"s":1e-6},{"t":8.075,"s":4e-8},{"t":8.1,"s":3.9e-7},{"t":8.125,"s":4e-8},{"t":8.15,"s":4e-7},{"t":8.175,"s":5e-8},{"t":8.2,"s":3.8e-7},{"t":8.225,"s":5e-8},{"t":8.25,"s":1.19e-6},{"t":8.275,"s":4e-8},{"t":8.3,"s":3.7e-7},{"t":8.325,"s":4e-8},{"t":8.35,"s":9.5e-7},{"t":8.375,"s":5e-8},{"t":8.4,"s":3.6e-7},{"t":8.425,"s":5e-8},{"t":8.45,"s":3.8e-7},{"t":8.475,"s":4e-8},{"t":8.5,"s":3.5e-7},{"t":8.525,"s":4e-8},{"t":8.55,"s":1.02e-6},{"t":8.575,"s":5e-8},{"t":8.6,"s":3.4e-7},{"t":8.625,"s":5e-8},{"t":8.65,"s":1.11e-6},{"t":8.675,"s":4e-8},{"t":8.7,"s":3.3e-7},{"t":8.725,"s":4e-8},{"t":8.75,"s":3.5e-7},{"t":8.775,"s":5e-8},{"t":8.8,"s":3.2e-7},{"t":8.825,"s":5e-8},{"t":8.85,"s":8.2e-7},{"t":8.875,"s":4e-8},{"t":8.9,"s":3.1e-7},{"t":8.925,"s":4e-8},{"t":8.95,"s":9e-7},{"t":8.975,"s":5e-8},
{"t":9,"s":3.2e-7},{"t":9.025,"s":5e-8},{"t":9.05,"s":3.3e-7},{"t":9.075,"s":4e-8},{"t":9.1,"s":3.3e-7},{"t":9.125,"s":4e-8},{"t":9.15,"s":8.6e-7},{"t":9.175,"s":5e-8},{"t":9.2,"s":3.4e-7},{"t":9.225,"s":5e-8},{"t":9.25,"s":7.8e-7},{"t":9.275,"s":4e-8},{"t":9.3,"s":3.3e-7},{"t":9.325,"s":4e-8},{"t":9.35,"s":3.4e-7},{"t":9.375,"s":5e-8},{"t":9.4,"s":3.2e-7},{"t":9.425,"s":5e-8},{"t":9.45,"s":8.4e-7},{"t":9.475,"s":4e-8},{"t":9.5,"s":3.3e-7},{"t":9.525,"s":4e-8},{"t":9.55,"s":3.3e-7},{"t":9.575,"s":5e-8},{"t":9.6,"s":3.1e-7},{"t":9.625,"s":5e-8},{"t":9.65,"s":7.5e-7},{"t":9.675,"s":4e-8},{"t":9.7,"s":3e-7},{"t":9.725,"s":4e-8},{"t":9.75,"s":8.2e-7},{"t":9.775,"s":5e-8},{"t":9.8,"s":2.9e-7},{"t":9.825,"s":5e-8},{"t":9.85,"s":3e-7},{"t":9.875,"s":4e-8},{"t":9.9,"s":2.7e-7},{"t":9.925,"s":4e-8},{"t":9.95,"s":6.5e-7},{"t":9.975,"s":5e-8},
{"t":10,"s":2.5e-7},{"t":10.025,"s":5e-8},{"t":10.05,"s":6.6e-7},{"t":10.075,"s":4e-8},{"t":10.1,"s":2.4e-7},{"t":10.125,"s":4e-8},{"t":10.15,"s":2.5e-7},{"t":10.175,"s":5e-8},{"t":10.2,"s":2.3e-7},{"t":10.225,"s":5e-8},{"t":10.25,"s":6.4e-7},{"t":10.275,"s":4e-8},{"t":10.3,"s":2.2e-7},{"t":10.325,"s":4e-8},{"t":10.35,"s":5.8e-7},{"t":10.375,"s":5e-8},{"t":10.4,"s":2.1e-7},{"t":10.425,"s":5e-8},{"t":10.45,"s":2.4e-7},{"t":10.475,"s":4e-8},{"t":10.5,"s":2e-7},{"t":10.525,"s":4e-8},{"t":10.55,"s":5.5e-7},{"t":10.575,"s":5e-8},{"t":10.6,"s":2e-7},{"t":10.625,"s":5e-8},{"t":10.65,"s":4.8e-7},{"t":10.675,"s":4e-8},{"t":10.7,"s":1.9e-7},{"t":10.725,"s":4e-8},{"t":10.75,"s":2.2e-7},{"t":10.775,"s":5e-8},{"t":10.8,"s":1.8e-7},{"t":10.825,"s":5e-8},{"t":10.85,"s":5e-7},{"t":10.875,"s":4e-8},{"t":10.9,"s":1.8e-7},{"t":10.925,"s":4e-8},{"t":10.95,"s":2e-7},{"t":10.975,"s":5e-8},
{"t":11,"s":1.7e-7},{"t":11.025,"s":5e-8},{"t":11.05,"s":4.3e-7},{"t":11.075,"s":4e-8},{"t":11.1,"s":1.6e-7},{"t":11.125,"s":4e-8},{"t":11.15,"s":3.8e-7},{"t":11.175,"s":5e-8},{"t":11.2,"s":1.6e-7},{"t":11.225,"s":5e-8},{"t":11.25,"s":1.8e-7},{"t":11.275,"s":4e-8},{"t":11.3,"s":1.5e-7},{"t":11.325,"s":4e-8},{"t":11.35,"s":4.2e-7},{"t":11.375,"s":3e-8},{"t":11.4,"s":1.4e-7},{"t":11.425,"s":3e-8},{"t":11.45,"s":4.3e-7},{"t":11.475,"s":4e-8},{"t":11.5,"s":1.3e-7},{"t":11.525,"s":4e-8},{"t":11.55,"s":1.5e-7},{"t":11.575,"s":3e-8},{"t":11.6,"s":1.2e-7},{"t":11.625,"s":3e-8},{"t":11.65,"s":3.5e-7},{"t":11.675,"s":4e-8},{"t":11.7,"s":1.1e-7},{"t":11.725,"s":4e-8},{"t":11.75,"s":2.8e-7},{"t":11.775,"s":3e-8},{"t":11.8,"s":1e-7},{"t":11.825,"s":3e-8},{"t":11.85,"s":1.2e-7},{"t":11.875,"s":4e-8},{"t":11.9,"s":9e-8},{"t":11.925,"s":4e-8},{"t":11.95,"s":3.2e-7},{"t":11.975,"s":3e-8},
{"t":12,"s":8e-8},{"t":12.025,"s":3e-8},{"t":12.05,"s":2.5e-7},{"t":12.075,"s":2e-8},{"t":12.1,"s":7e-8},{"t":12.125,"s":2e-8},{"t":12.15,"s":-5e-8},{"t":12.175,"s":2e-8},{"t":12.2,"s":1.8e-7},{"t":12.225,"s":2e-8},{"t":12.25,"s":6e-8},{"t":12.275,"s":2e-8},{"t":12.3,"s":1.9e-7},{"t":12.325,"s":3e-8},{"t":12.35,"s":5e-8},{"t":12.375,"s":3e-8},{"t":12.4,"s":8e-8},{"t":12.425,"s":2e-8},{"t":12.45,"s":5e-8},{"t":12.475,"s":2e-8},{"t":12.5,"s":1.5e-7},
{"t":12.55,"s":3e-8},{"t":12.6,"s":1e-7},{"t":12.65,"s":2e-8},{"t":12.7,"s":1.2e-7},{"t":12.75,"s":1e-8},{"t":12.8,"s":5e-8},{"t":12.85,"s":3e-8},{"t":12.9,"s":1e-7},{"t":12.95,"s":-6e-8},{"t":13,"s":8e-8},{"t":13.05,"s":-2e-8},{"t":13.1,"s":6e-8},{"t":13.15,"s":-3e-8},{"t":13.2,"s":5e-8},{"t":13.25,"s":-4e-8},{"t":13.3,"s":7.7e-8},{"t":13.35,"s":-2e-8},{"t":13.4,"s":4e-8},{"t":13.45,"s":-5e-8},{"t":13.5,"s":6e-8},{"t":13.55,"s":-3e-8},{"t":13.6,"s":3e-8},{"t":13.65,"s":-4e-8},{"t":13.7,"s":1e-7},{"t":13.75,"s":-6e-8},{"t":13.8,"s":4e-8},{"t":13.85,"s":-3e-8},{"t":13.9,"s":2e-8},{"t":13.95,"s":-4e-8},{"t":14,"s":0}
]
},
"spacing":144,
"vconcat":[
{"spacing":238,"resolve":{"scale":{"color":"independent"},"legend":{"color":"independent"}},"hconcat":[
{"title":{"text":"(a)","orient":"bottom","anchor":"middle","fontSize":75,"fontWeight":"bold","offset":150,"dx":-69},
 "vconcat":[{
  "title":{"text":"(a)","anchor":"start","frame":"bounds","dx":36,"offset":2},
  "width":1369,"height":1109,
  "encoding":{"x":{"field":"t","type":"quantitative","scale":{"domain":[0,14],"nice":false},"axis":{"title":"Time (s)","values":[0,1,2,3,4,5,6,7,8,9,10,11,12,13,14],"labelExpr":"datum.value % 2 === 0 ? datum.label : ''","tickSize":{"condition":{"test":"datum.value % 2 === 0","value":22},"value":11},"labelPadding":17,"titlePadding":34}}},
  "layer":[
   {"data":{"name":"za"},"mark":{"type":"line","strokeWidth":1.6,"clip":true},
    "encoding":{"y":{"field":"v","type":"quantitative","scale":{"domain":[-90,80],"nice":false,"zero":false},"axis":{"title":"Vibration velocity (mm/s)","values":[-90,-80,-70,-60,-50,-40,-30,-20,-10,0,10,20,30,40,50,60,70,80],"labelExpr":"datum.value % 20 === 0 ? replace(datum.label, '−', '-') : ''","tickSize":{"condition":{"test":"datum.value % 20 === 0","value":20},"value":10},"labelPadding":18,"titlePadding":56}},
     "color":{"datum":"Slab surface Z","type":"nominal","scale":{"domain":["Slab surface X","Slab surface Y","Slab surface Z"],"range":["#1f78e8","#ef4040","#6b6b6b"]},"legend":{"title":null,"orient":"none","legendX":836,"legendY":8,"direction":"vertical","strokeColor":"black","fillColor":"white","padding":8,"symbolType":"stroke","symbolSize":16129,"symbolStrokeWidth":2,"clipHeight":66,"rowPadding":7,"labelOffset":17}}}},
   {"data":{"name":"a"},"mark":{"type":"line","strokeWidth":1.6,"clip":true},
    "encoding":{"y":{"field":"x","type":"quantitative","scale":{"domain":[-90,80],"nice":false,"zero":false},"axis":{"title":"Vibration velocity (mm/s)","values":[-90,-80,-70,-60,-50,-40,-30,-20,-10,0,10,20,30,40,50,60,70,80],"labelExpr":"datum.value % 20 === 0 ? replace(datum.label, '−', '-') : ''","tickSize":{"condition":{"test":"datum.value % 20 === 0","value":20},"value":10},"labelPadding":18,"titlePadding":56}},
     "color":{"datum":"Slab surface X","type":"nominal"}}},
   {"data":{"name":"a"},"mark":{"type":"line","strokeWidth":1.6,"clip":true},
    "encoding":{"y":{"field":"y","type":"quantitative","scale":{"domain":[-90,80],"nice":false,"zero":false},"axis":{"title":"Vibration velocity (mm/s)","values":[-90,-80,-70,-60,-50,-40,-30,-20,-10,0,10,20,30,40,50,60,70,80],"labelExpr":"datum.value % 20 === 0 ? replace(datum.label, '−', '-') : ''","tickSize":{"condition":{"test":"datum.value % 20 === 0","value":20},"value":10},"labelPadding":18,"titlePadding":56}},
     "color":{"datum":"Slab surface Y","type":"nominal"}}}
  ]
 }]
},
{"title":{"text":"(b)","orient":"bottom","anchor":"middle","fontSize":75,"fontWeight":"bold","offset":150,"dx":-63},
 "vconcat":[{
  "title":{"text":"(b)","anchor":"start","frame":"bounds","dx":20,"offset":22,"dy":7},
  "width":1360,"height":1111,
  "encoding":{"x":{"field":"t","type":"quantitative","scale":{"domain":[0,14],"nice":false},"axis":{"title":"Time (s)","values":[0,1,2,3,4,5,6,7,8,9,10,11,12,13,14],"labelExpr":"datum.value % 2 === 0 ? datum.label : ''","tickSize":{"condition":{"test":"datum.value % 2 === 0","value":22},"value":11},"labelPadding":17,"titlePadding":34}}},
  "layer":[
   {"data":{"name":"xb"},"mark":{"type":"line","strokeWidth":1.6,"clip":true},
    "encoding":{"y":{"field":"v","type":"quantitative","scale":{"domain":[-1.75,1.75],"nice":false,"zero":false},"axis":{"title":"Vibration velocity (mm/s)","values":[-1.75,-1.5,-1.25,-1,-0.75,-0.5,-0.25,0,0.25,0.5,0.75,1,1.25,1.5,1.75],"labelExpr":"abs(datum.value*2 - round(datum.value*2)) < 0.01 ? replace(format(datum.value, '.1f'), '−', '-') : ''","tickSize":{"condition":{"test":"abs(datum.value*2 - round(datum.value*2)) < 0.01","value":20},"value":10},"labelPadding":18,"titlePadding":49}},
     "color":{"datum":"Seawall top X","type":"nominal","scale":{"domain":["Seawall top X","Seawall top Y","Seawall top Z"],"range":["#1f78e8","#ff2a2a","#7a7a7a"]},"legend":{"title":null,"orient":"none","legendX":804,"legendY":25,"direction":"vertical","strokeColor":"black","fillColor":"white","padding":8,"symbolType":"stroke","symbolSize":15625,"symbolStrokeWidth":2,"clipHeight":66,"rowPadding":6,"labelOffset":17}}}},
   {"data":{"name":"b"},"mark":{"type":"line","strokeWidth":1.6,"clip":true},
    "encoding":{"y":{"field":"z","type":"quantitative","scale":{"domain":[-1.75,1.75],"nice":false,"zero":false},"axis":{"title":"Vibration velocity (mm/s)","values":[-1.75,-1.5,-1.25,-1,-0.75,-0.5,-0.25,0,0.25,0.5,0.75,1,1.25,1.5,1.75],"labelExpr":"abs(datum.value*2 - round(datum.value*2)) < 0.01 ? replace(format(datum.value, '.1f'), '−', '-') : ''","tickSize":{"condition":{"test":"abs(datum.value*2 - round(datum.value*2)) < 0.01","value":20},"value":10},"labelPadding":18,"titlePadding":49}},
     "color":{"datum":"Seawall top Z","type":"nominal"}}},
   {"data":{"name":"b"},"mark":{"type":"line","strokeWidth":1.6,"clip":true},
    "encoding":{"y":{"field":"y","type":"quantitative","scale":{"domain":[-1.75,1.75],"nice":false,"zero":false},"axis":{"title":"Vibration velocity (mm/s)","values":[-1.75,-1.5,-1.25,-1,-0.75,-0.5,-0.25,0,0.25,0.5,0.75,1,1.25,1.5,1.75],"labelExpr":"abs(datum.value*2 - round(datum.value*2)) < 0.01 ? replace(format(datum.value, '.1f'), '−', '-') : ''","tickSize":{"condition":{"test":"abs(datum.value*2 - round(datum.value*2)) < 0.01","value":20},"value":10},"labelPadding":18,"titlePadding":49}},
     "color":{"datum":"Seawall top Y","type":"nominal"}}}
  ]
 }]
}
]},
{"spacing":0,"hconcat":[
{"width":412,"height":10,"view":{"stroke":null},"data":{"values":[]},"mark":"point","encoding":{}},
{"title":{"text":"(c)","orient":"bottom","anchor":"middle","fontSize":75,"fontWeight":"bold","offset":178,"dx":117},
 "vconcat":[{
  "title":{"text":"(c)","anchor":"start","frame":"bounds","dx":170,"offset":35},
  "width":1460,"height":1183,
  "data":{"name":"c"},
  "mark":{"type":"line","strokeWidth":1.6,"color":"black","clip":true},
  "encoding":{
   "x":{"field":"t","type":"quantitative","scale":{"domain":[0,14],"nice":false},"axis":{"title":"Time (s)","values":[0,1,2,3,4,5,6,7,8,9,10,11,12,13,14],"labelExpr":"datum.value % 2 === 0 ? datum.label : ''","tickSize":{"condition":{"test":"datum.value % 2 === 0","value":22},"value":11},"labelPadding":20,"titlePadding":40}},
   "y":{"field":"s","type":"quantitative","scale":{"domain":[-0.0000004,0.0000018],"nice":false,"zero":false},"axis":{"title":"Seawall top strain","values":[-4e-7,-3e-7,-2e-7,-1e-7,0,1e-7,2e-7,3e-7,4e-7,5e-7,6e-7,7e-7,8e-7,9e-7,1e-6,1.1e-6,1.2e-6,1.3e-6,1.4e-6,1.5e-6,1.6e-6,1.7e-6,1.8e-6],"labelExpr":"abs(datum.value*5000000 - round(datum.value*5000000)) < 0.01 ? (abs(datum.value) < 0.000000001 ? '0.0' : (abs(datum.value) > 0.00000099 ? format(datum.value*1000000, '.1f') + 'x10⁻⁶' : replace(format(datum.value*10000000, '.1f'), '−', '-') + 'x10⁻⁷')) : ''","tickSize":{"condition":{"test":"abs(datum.value*5000000 - round(datum.value*5000000)) < 0.01","value":20},"value":10},"labelPadding":18,"titlePadding":81}}
  }
 }]
}
]}
]
}
